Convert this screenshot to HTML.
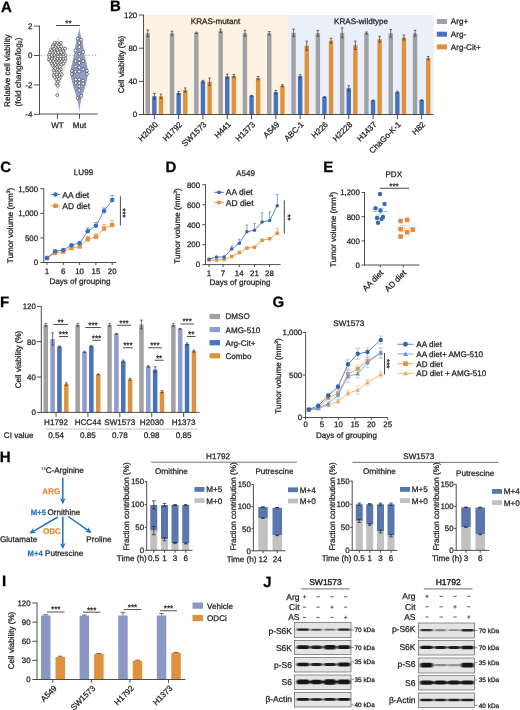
<!DOCTYPE html>
<html><head><meta charset="utf-8"><title>Figure</title>
<style>html,body{margin:0;padding:0;background:#fff}svg{display:block}text{font-family:"Liberation Sans",sans-serif;text-rendering:geometricPrecision;stroke-width:0.25px}</style>
</head><body>
<svg width="520" height="710" viewBox="0 0 520 710">
<defs><filter id="bl" x="-20%" y="-50%" width="140%" height="200%"><feGaussianBlur stdDeviation="0.9 0.5"/></filter></defs>
<rect width="520" height="710" fill="#fff"/>
<text x="0.90" y="11.50" font-size="15" font-weight="bold" fill="#000" stroke="#000" >A</text>
<path d="M58 34 C58.3 40 62 44 65 52 C68 58 67 64 64 72 C62 80 60 86 59 92 C58.4 97 58.2 100 58 104 C57.8 100 57.6 97 57 92 C56 86 54 80 52 72 C49 64 48 58 51 52 C54 44 57.7 40 58 34Z" fill="#e9e9e9"/>
<path d="M79.3 27 C79.5 33 81.6 37 82.4 41 C83.4 46 83.9 50 84.6 55 C85.5 61 88 66 88 72 C88 77 86.8 80 86 84 C85 88 83.5 92 82 97 C81 101 79.8 105 79.3 113 C78.8 105 77.6 101 76.6 97 C75.1 92 73.6 88 72.6 84 C71.8 80 70.6 77 70.6 72 C70.6 66 73.1 61 74 55 C74.7 50 75.2 46 76.2 41 C77 37 79.1 33 79.3 27Z" fill="#8f9dc8"/>
<line x1="40.50" y1="55.50" x2="97.50" y2="55.50" stroke="#b0b0b0" stroke-width="0.9" stroke-dasharray="1.4 1.8"/>
<line x1="39.50" y1="25.60" x2="39.50" y2="114.40" stroke="#3a3a3a" stroke-width="0.9" />
<line x1="39.50" y1="114.00" x2="97.70" y2="114.00" stroke="#3a3a3a" stroke-width="0.9" />
<line x1="33.90" y1="26.10" x2="39.50" y2="26.10" stroke="#3a3a3a" stroke-width="0.9" />
<text x="32.40" y="28.98" font-size="8.0" text-anchor="end" fill="#222" stroke="#222" >2</text>
<line x1="33.90" y1="55.50" x2="39.50" y2="55.50" stroke="#3a3a3a" stroke-width="0.9" />
<text x="32.40" y="58.38" font-size="8.0" text-anchor="end" fill="#222" stroke="#222" >0</text>
<line x1="33.90" y1="84.90" x2="39.50" y2="84.90" stroke="#3a3a3a" stroke-width="0.9" />
<text x="32.40" y="87.78" font-size="8.0" text-anchor="end" fill="#222" stroke="#222" >-2</text>
<line x1="33.90" y1="114.30" x2="39.50" y2="114.30" stroke="#3a3a3a" stroke-width="0.9" />
<text x="32.40" y="117.18" font-size="8.0" text-anchor="end" fill="#222" stroke="#222" >-4</text>
<line x1="57.50" y1="114.00" x2="57.50" y2="118.90" stroke="#3a3a3a" stroke-width="0.9" />
<text x="57.50" y="127.92" font-size="8.1" text-anchor="middle" fill="#222" stroke="#222" >WT</text>
<line x1="79.50" y1="114.00" x2="79.50" y2="118.90" stroke="#3a3a3a" stroke-width="0.9" />
<text x="79.50" y="127.92" font-size="8.1" text-anchor="middle" fill="#222" stroke="#222" >Mut</text>
<text x="0" y="0" font-size="8.1" text-anchor="middle" fill="#222" stroke="#222" transform="translate(9.72 70.70) rotate(-90)">Relative cell viability</text>
<text x="0" y="0" font-size="8.3" text-anchor="middle" fill="#222" stroke="#222" transform="translate(20.6 72) rotate(-90)">(fold changes/log<tspan font-size="5.2" dy="1.5">2</tspan><tspan dy="-1.5">)</tspan></text>
<line x1="56.00" y1="25.50" x2="80.00" y2="25.50" stroke="#333" stroke-width="0.9" />
<text x="68.50" y="26.42" font-size="8.1" text-anchor="middle" fill="#222" stroke="#222" >**</text>
<circle cx="54.65" cy="42.74" r="1.45" fill="#fff" stroke="#383838" stroke-width="0.65"/>
<circle cx="57.50" cy="43.04" r="1.45" fill="#fff" stroke="#383838" stroke-width="0.65"/>
<circle cx="60.83" cy="42.87" r="1.45" fill="#fff" stroke="#383838" stroke-width="0.65"/>
<circle cx="53.23" cy="45.10" r="1.45" fill="#fff" stroke="#383838" stroke-width="0.65"/>
<circle cx="56.36" cy="45.13" r="1.45" fill="#fff" stroke="#383838" stroke-width="0.65"/>
<circle cx="59.21" cy="44.57" r="1.45" fill="#fff" stroke="#383838" stroke-width="0.65"/>
<circle cx="52.75" cy="46.51" r="1.45" fill="#fff" stroke="#383838" stroke-width="0.65"/>
<circle cx="55.60" cy="47.34" r="1.45" fill="#fff" stroke="#383838" stroke-width="0.65"/>
<circle cx="58.45" cy="46.76" r="1.45" fill="#fff" stroke="#383838" stroke-width="0.65"/>
<circle cx="61.30" cy="46.73" r="1.45" fill="#fff" stroke="#383838" stroke-width="0.65"/>
<circle cx="50.85" cy="49.50" r="1.45" fill="#fff" stroke="#383838" stroke-width="0.65"/>
<circle cx="54.17" cy="48.97" r="1.45" fill="#fff" stroke="#383838" stroke-width="0.65"/>
<circle cx="57.02" cy="49.34" r="1.45" fill="#fff" stroke="#383838" stroke-width="0.65"/>
<circle cx="59.88" cy="48.98" r="1.45" fill="#fff" stroke="#383838" stroke-width="0.65"/>
<circle cx="62.73" cy="49.14" r="1.45" fill="#fff" stroke="#383838" stroke-width="0.65"/>
<circle cx="65.10" cy="48.65" r="1.45" fill="#fff" stroke="#383838" stroke-width="0.65"/>
<circle cx="51.80" cy="51.13" r="1.45" fill="#fff" stroke="#383838" stroke-width="0.65"/>
<circle cx="54.65" cy="51.37" r="1.45" fill="#fff" stroke="#383838" stroke-width="0.65"/>
<circle cx="57.50" cy="51.02" r="1.45" fill="#fff" stroke="#383838" stroke-width="0.65"/>
<circle cx="60.35" cy="51.24" r="1.45" fill="#fff" stroke="#383838" stroke-width="0.65"/>
<circle cx="63.20" cy="51.17" r="1.45" fill="#fff" stroke="#383838" stroke-width="0.65"/>
<circle cx="49.90" cy="52.56" r="1.45" fill="#fff" stroke="#383838" stroke-width="0.65"/>
<circle cx="52.75" cy="53.26" r="1.45" fill="#fff" stroke="#383838" stroke-width="0.65"/>
<circle cx="55.60" cy="53.09" r="1.45" fill="#fff" stroke="#383838" stroke-width="0.65"/>
<circle cx="58.45" cy="52.80" r="1.45" fill="#fff" stroke="#383838" stroke-width="0.65"/>
<circle cx="61.30" cy="52.53" r="1.45" fill="#fff" stroke="#383838" stroke-width="0.65"/>
<circle cx="64.15" cy="53.37" r="1.45" fill="#fff" stroke="#383838" stroke-width="0.65"/>
<circle cx="48.95" cy="54.97" r="1.45" fill="#fff" stroke="#383838" stroke-width="0.65"/>
<circle cx="51.80" cy="55.22" r="1.45" fill="#fff" stroke="#383838" stroke-width="0.65"/>
<circle cx="54.65" cy="55.38" r="1.45" fill="#fff" stroke="#383838" stroke-width="0.65"/>
<circle cx="57.50" cy="55.21" r="1.45" fill="#fff" stroke="#383838" stroke-width="0.65"/>
<circle cx="60.35" cy="55.42" r="1.45" fill="#fff" stroke="#383838" stroke-width="0.65"/>
<circle cx="63.20" cy="54.89" r="1.45" fill="#fff" stroke="#383838" stroke-width="0.65"/>
<circle cx="65.58" cy="55.30" r="1.45" fill="#fff" stroke="#383838" stroke-width="0.65"/>
<circle cx="49.42" cy="56.94" r="1.45" fill="#fff" stroke="#383838" stroke-width="0.65"/>
<circle cx="52.27" cy="57.44" r="1.45" fill="#fff" stroke="#383838" stroke-width="0.65"/>
<circle cx="55.12" cy="57.38" r="1.45" fill="#fff" stroke="#383838" stroke-width="0.65"/>
<circle cx="57.98" cy="56.60" r="1.45" fill="#fff" stroke="#383838" stroke-width="0.65"/>
<circle cx="60.83" cy="56.64" r="1.45" fill="#fff" stroke="#383838" stroke-width="0.65"/>
<circle cx="63.67" cy="56.72" r="1.45" fill="#fff" stroke="#383838" stroke-width="0.65"/>
<circle cx="48.95" cy="59.47" r="1.45" fill="#fff" stroke="#383838" stroke-width="0.65"/>
<circle cx="51.80" cy="58.94" r="1.45" fill="#fff" stroke="#383838" stroke-width="0.65"/>
<circle cx="54.65" cy="59.13" r="1.45" fill="#fff" stroke="#383838" stroke-width="0.65"/>
<circle cx="57.50" cy="58.80" r="1.45" fill="#fff" stroke="#383838" stroke-width="0.65"/>
<circle cx="60.35" cy="59.01" r="1.45" fill="#fff" stroke="#383838" stroke-width="0.65"/>
<circle cx="63.20" cy="58.89" r="1.45" fill="#fff" stroke="#383838" stroke-width="0.65"/>
<circle cx="65.58" cy="58.85" r="1.45" fill="#fff" stroke="#383838" stroke-width="0.65"/>
<circle cx="50.38" cy="61.09" r="1.45" fill="#fff" stroke="#383838" stroke-width="0.65"/>
<circle cx="53.23" cy="61.08" r="1.45" fill="#fff" stroke="#383838" stroke-width="0.65"/>
<circle cx="56.08" cy="61.40" r="1.45" fill="#fff" stroke="#383838" stroke-width="0.65"/>
<circle cx="58.92" cy="61.18" r="1.45" fill="#fff" stroke="#383838" stroke-width="0.65"/>
<circle cx="61.77" cy="61.43" r="1.45" fill="#fff" stroke="#383838" stroke-width="0.65"/>
<circle cx="64.62" cy="61.36" r="1.45" fill="#fff" stroke="#383838" stroke-width="0.65"/>
<circle cx="51.80" cy="63.49" r="1.45" fill="#fff" stroke="#383838" stroke-width="0.65"/>
<circle cx="54.65" cy="63.17" r="1.45" fill="#fff" stroke="#383838" stroke-width="0.65"/>
<circle cx="57.50" cy="62.66" r="1.45" fill="#fff" stroke="#383838" stroke-width="0.65"/>
<circle cx="60.35" cy="63.36" r="1.45" fill="#fff" stroke="#383838" stroke-width="0.65"/>
<circle cx="63.20" cy="63.46" r="1.45" fill="#fff" stroke="#383838" stroke-width="0.65"/>
<circle cx="52.75" cy="65.40" r="1.45" fill="#fff" stroke="#383838" stroke-width="0.65"/>
<circle cx="55.60" cy="65.07" r="1.45" fill="#fff" stroke="#383838" stroke-width="0.65"/>
<circle cx="58.45" cy="65.21" r="1.45" fill="#fff" stroke="#383838" stroke-width="0.65"/>
<circle cx="61.30" cy="64.71" r="1.45" fill="#fff" stroke="#383838" stroke-width="0.65"/>
<circle cx="54.17" cy="67.33" r="1.45" fill="#fff" stroke="#383838" stroke-width="0.65"/>
<circle cx="57.02" cy="67.07" r="1.45" fill="#fff" stroke="#383838" stroke-width="0.65"/>
<circle cx="59.88" cy="66.78" r="1.45" fill="#fff" stroke="#383838" stroke-width="0.65"/>
<circle cx="55.12" cy="68.56" r="1.45" fill="#fff" stroke="#383838" stroke-width="0.65"/>
<circle cx="57.98" cy="69.35" r="1.45" fill="#fff" stroke="#383838" stroke-width="0.65"/>
<circle cx="60.83" cy="69.49" r="1.45" fill="#fff" stroke="#383838" stroke-width="0.65"/>
<circle cx="53.70" cy="70.59" r="1.45" fill="#fff" stroke="#383838" stroke-width="0.65"/>
<circle cx="56.55" cy="71.30" r="1.45" fill="#fff" stroke="#383838" stroke-width="0.65"/>
<circle cx="59.40" cy="70.91" r="1.45" fill="#fff" stroke="#383838" stroke-width="0.65"/>
<circle cx="54.65" cy="72.65" r="1.45" fill="#fff" stroke="#383838" stroke-width="0.65"/>
<circle cx="57.50" cy="72.79" r="1.45" fill="#fff" stroke="#383838" stroke-width="0.65"/>
<circle cx="60.35" cy="73.27" r="1.45" fill="#fff" stroke="#383838" stroke-width="0.65"/>
<circle cx="53.70" cy="75.37" r="1.45" fill="#fff" stroke="#383838" stroke-width="0.65"/>
<circle cx="56.55" cy="74.54" r="1.45" fill="#fff" stroke="#383838" stroke-width="0.65"/>
<circle cx="59.40" cy="75.11" r="1.45" fill="#fff" stroke="#383838" stroke-width="0.65"/>
<circle cx="61.77" cy="74.54" r="1.45" fill="#fff" stroke="#383838" stroke-width="0.65"/>
<circle cx="54.65" cy="77.22" r="1.45" fill="#fff" stroke="#383838" stroke-width="0.65"/>
<circle cx="57.50" cy="76.83" r="1.45" fill="#fff" stroke="#383838" stroke-width="0.65"/>
<circle cx="59.88" cy="77.38" r="1.45" fill="#fff" stroke="#383838" stroke-width="0.65"/>
<circle cx="56.55" cy="79.48" r="1.45" fill="#fff" stroke="#383838" stroke-width="0.65"/>
<circle cx="58.92" cy="79.01" r="1.45" fill="#fff" stroke="#383838" stroke-width="0.65"/>
<circle cx="57.78" cy="82.00" r="1.45" fill="#fff" stroke="#383838" stroke-width="0.65"/>
<circle cx="56.55" cy="83.81" r="1.45" fill="#fff" stroke="#383838" stroke-width="0.65"/>
<circle cx="57.78" cy="85.58" r="1.45" fill="#fff" stroke="#383838" stroke-width="0.65"/>
<circle cx="57.22" cy="95.10" r="1.45" fill="#fff" stroke="#383838" stroke-width="0.65"/>
<circle cx="77.54" cy="38.63" r="1.45" fill="#fff" stroke="#383838" stroke-width="0.65"/>
<circle cx="81.23" cy="39.82" r="1.45" fill="#fff" stroke="#383838" stroke-width="0.65"/>
<circle cx="79.31" cy="43.06" r="1.45" fill="#fff" stroke="#383838" stroke-width="0.65"/>
<circle cx="79.31" cy="47.20" r="1.45" fill="#fff" stroke="#383838" stroke-width="0.65"/>
<circle cx="75.47" cy="50.45" r="1.45" fill="#fff" stroke="#383838" stroke-width="0.65"/>
<circle cx="83.15" cy="51.93" r="1.45" fill="#fff" stroke="#383838" stroke-width="0.65"/>
<circle cx="79.31" cy="53.70" r="1.45" fill="#fff" stroke="#383838" stroke-width="0.65"/>
<circle cx="79.31" cy="59.31" r="1.45" fill="#fff" stroke="#383838" stroke-width="0.65"/>
<circle cx="75.47" cy="61.09" r="1.45" fill="#fff" stroke="#383838" stroke-width="0.65"/>
<circle cx="83.15" cy="61.09" r="1.45" fill="#fff" stroke="#383838" stroke-width="0.65"/>
<circle cx="79.31" cy="63.01" r="1.45" fill="#fff" stroke="#383838" stroke-width="0.65"/>
<circle cx="75.77" cy="66.40" r="1.45" fill="#fff" stroke="#383838" stroke-width="0.65"/>
<circle cx="79.31" cy="67.44" r="1.45" fill="#fff" stroke="#383838" stroke-width="0.65"/>
<circle cx="83.15" cy="69.36" r="1.45" fill="#fff" stroke="#383838" stroke-width="0.65"/>
<circle cx="71.93" cy="70.83" r="1.45" fill="#fff" stroke="#383838" stroke-width="0.65"/>
<circle cx="86.99" cy="70.83" r="1.45" fill="#fff" stroke="#383838" stroke-width="0.65"/>
<circle cx="75.47" cy="71.87" r="1.45" fill="#fff" stroke="#383838" stroke-width="0.65"/>
<circle cx="79.31" cy="71.57" r="1.45" fill="#fff" stroke="#383838" stroke-width="0.65"/>
<circle cx="71.93" cy="74.08" r="1.45" fill="#fff" stroke="#383838" stroke-width="0.65"/>
<circle cx="86.99" cy="74.08" r="1.45" fill="#fff" stroke="#383838" stroke-width="0.65"/>
<circle cx="75.77" cy="79.55" r="1.45" fill="#fff" stroke="#383838" stroke-width="0.65"/>
<circle cx="79.31" cy="79.55" r="1.45" fill="#fff" stroke="#383838" stroke-width="0.65"/>
<circle cx="83.15" cy="80.73" r="1.45" fill="#fff" stroke="#383838" stroke-width="0.65"/>
<circle cx="75.77" cy="82.95" r="1.45" fill="#fff" stroke="#383838" stroke-width="0.65"/>
<circle cx="79.31" cy="83.24" r="1.45" fill="#fff" stroke="#383838" stroke-width="0.65"/>
<circle cx="83.15" cy="83.69" r="1.45" fill="#fff" stroke="#383838" stroke-width="0.65"/>
<circle cx="79.31" cy="86.34" r="1.45" fill="#fff" stroke="#383838" stroke-width="0.65"/>
<circle cx="79.31" cy="90.33" r="1.45" fill="#fff" stroke="#383838" stroke-width="0.65"/>
<circle cx="81.23" cy="95.95" r="1.45" fill="#fff" stroke="#383838" stroke-width="0.65"/>
<circle cx="77.54" cy="98.01" r="1.45" fill="#fff" stroke="#383838" stroke-width="0.65"/>
<text x="109.90" y="11.40" font-size="15" font-weight="bold" fill="#000" stroke="#000" >B</text>
<rect x="143.90" y="15.00" width="144.10" height="99.50" fill="#fef2e4" />
<rect x="288.00" y="15.00" width="145.90" height="99.50" fill="#e9f0fa" />
<rect x="145.55" y="33.26" width="4.40" height="81.24" fill="#a1a1a3" />
<line x1="147.75" y1="29.94" x2="147.75" y2="36.57" stroke="#333" stroke-width="0.7" />
<line x1="146.45" y1="29.94" x2="149.05" y2="29.94" stroke="#333" stroke-width="0.7" />
<line x1="146.45" y1="36.57" x2="149.05" y2="36.57" stroke="#333" stroke-width="0.7" />
<rect x="152.15" y="96.26" width="4.40" height="18.24" fill="#4672be" />
<line x1="154.35" y1="93.36" x2="154.35" y2="99.16" stroke="#333" stroke-width="0.7" />
<line x1="153.05" y1="93.36" x2="155.65" y2="93.36" stroke="#333" stroke-width="0.7" />
<line x1="153.05" y1="99.16" x2="155.65" y2="99.16" stroke="#333" stroke-width="0.7" />
<rect x="158.75" y="96.26" width="4.40" height="18.24" fill="#e0913c" />
<line x1="160.95" y1="94.19" x2="160.95" y2="98.33" stroke="#333" stroke-width="0.7" />
<line x1="159.65" y1="94.19" x2="162.25" y2="94.19" stroke="#333" stroke-width="0.7" />
<line x1="159.65" y1="98.33" x2="162.25" y2="98.33" stroke="#333" stroke-width="0.7" />
<line x1="154.35" y1="114.50" x2="154.35" y2="119.20" stroke="#3a3a3a" stroke-width="0.9" />
<text x="158.45" y="125.00" font-size="8.1" text-anchor="end" transform="rotate(-45 158.45 125.00)" fill="#222" stroke="#222" >H2030</text>
<rect x="169.85" y="33.26" width="4.40" height="81.24" fill="#a1a1a3" />
<line x1="172.05" y1="31.19" x2="172.05" y2="35.33" stroke="#333" stroke-width="0.7" />
<line x1="170.75" y1="31.19" x2="173.35" y2="31.19" stroke="#333" stroke-width="0.7" />
<line x1="170.75" y1="35.33" x2="173.35" y2="35.33" stroke="#333" stroke-width="0.7" />
<rect x="176.45" y="92.95" width="4.40" height="21.55" fill="#4672be" />
<line x1="178.65" y1="91.45" x2="178.65" y2="94.44" stroke="#333" stroke-width="0.7" />
<line x1="177.35" y1="91.45" x2="179.95" y2="91.45" stroke="#333" stroke-width="0.7" />
<line x1="177.35" y1="94.44" x2="179.95" y2="94.44" stroke="#333" stroke-width="0.7" />
<rect x="183.05" y="90.04" width="4.40" height="24.46" fill="#e0913c" />
<line x1="185.25" y1="87.97" x2="185.25" y2="92.12" stroke="#333" stroke-width="0.7" />
<line x1="183.95" y1="87.97" x2="186.55" y2="87.97" stroke="#333" stroke-width="0.7" />
<line x1="183.95" y1="92.12" x2="186.55" y2="92.12" stroke="#333" stroke-width="0.7" />
<line x1="178.65" y1="114.50" x2="178.65" y2="119.20" stroke="#3a3a3a" stroke-width="0.9" />
<text x="182.75" y="125.00" font-size="8.1" text-anchor="end" transform="rotate(-45 182.75 125.00)" fill="#222" stroke="#222" >H1792</text>
<rect x="194.15" y="32.84" width="4.40" height="81.66" fill="#a1a1a3" />
<line x1="196.35" y1="32.18" x2="196.35" y2="33.51" stroke="#333" stroke-width="0.7" />
<line x1="195.05" y1="32.18" x2="197.65" y2="32.18" stroke="#333" stroke-width="0.7" />
<line x1="195.05" y1="33.51" x2="197.65" y2="33.51" stroke="#333" stroke-width="0.7" />
<rect x="200.75" y="81.34" width="4.40" height="33.16" fill="#4672be" />
<line x1="202.95" y1="80.35" x2="202.95" y2="82.33" stroke="#333" stroke-width="0.7" />
<line x1="201.65" y1="80.35" x2="204.25" y2="80.35" stroke="#333" stroke-width="0.7" />
<line x1="201.65" y1="82.33" x2="204.25" y2="82.33" stroke="#333" stroke-width="0.7" />
<rect x="207.35" y="81.75" width="4.40" height="32.75" fill="#e0913c" />
<line x1="209.55" y1="78.02" x2="209.55" y2="85.49" stroke="#333" stroke-width="0.7" />
<line x1="208.25" y1="78.02" x2="210.85" y2="78.02" stroke="#333" stroke-width="0.7" />
<line x1="208.25" y1="85.49" x2="210.85" y2="85.49" stroke="#333" stroke-width="0.7" />
<line x1="202.95" y1="114.50" x2="202.95" y2="119.20" stroke="#3a3a3a" stroke-width="0.9" />
<text x="207.05" y="125.00" font-size="8.1" text-anchor="end" transform="rotate(-45 207.05 125.00)" fill="#222" stroke="#222" >SW1573</text>
<rect x="218.45" y="30.77" width="4.40" height="83.73" fill="#a1a1a3" />
<line x1="220.65" y1="29.11" x2="220.65" y2="32.43" stroke="#333" stroke-width="0.7" />
<line x1="219.35" y1="29.11" x2="221.95" y2="29.11" stroke="#333" stroke-width="0.7" />
<line x1="219.35" y1="32.43" x2="221.95" y2="32.43" stroke="#333" stroke-width="0.7" />
<rect x="225.05" y="76.37" width="4.40" height="38.13" fill="#4672be" />
<line x1="227.25" y1="74.29" x2="227.25" y2="78.44" stroke="#333" stroke-width="0.7" />
<line x1="225.95" y1="74.29" x2="228.55" y2="74.29" stroke="#333" stroke-width="0.7" />
<line x1="225.95" y1="78.44" x2="228.55" y2="78.44" stroke="#333" stroke-width="0.7" />
<rect x="231.65" y="75.95" width="4.40" height="38.55" fill="#e0913c" />
<line x1="233.85" y1="74.46" x2="233.85" y2="77.44" stroke="#333" stroke-width="0.7" />
<line x1="232.55" y1="74.46" x2="235.15" y2="74.46" stroke="#333" stroke-width="0.7" />
<line x1="232.55" y1="77.44" x2="235.15" y2="77.44" stroke="#333" stroke-width="0.7" />
<line x1="227.25" y1="114.50" x2="227.25" y2="119.20" stroke="#3a3a3a" stroke-width="0.9" />
<text x="231.35" y="125.00" font-size="8.1" text-anchor="end" transform="rotate(-45 231.35 125.00)" fill="#222" stroke="#222" >H441</text>
<rect x="242.75" y="33.26" width="4.40" height="81.24" fill="#a1a1a3" />
<line x1="244.95" y1="30.36" x2="244.95" y2="36.16" stroke="#333" stroke-width="0.7" />
<line x1="243.65" y1="30.36" x2="246.25" y2="30.36" stroke="#333" stroke-width="0.7" />
<line x1="243.65" y1="36.16" x2="246.25" y2="36.16" stroke="#333" stroke-width="0.7" />
<rect x="249.35" y="95.76" width="4.40" height="18.74" fill="#4672be" />
<line x1="251.55" y1="95.43" x2="251.55" y2="96.10" stroke="#333" stroke-width="0.7" />
<line x1="250.25" y1="95.43" x2="252.85" y2="95.43" stroke="#333" stroke-width="0.7" />
<line x1="250.25" y1="96.10" x2="252.85" y2="96.10" stroke="#333" stroke-width="0.7" />
<rect x="255.95" y="78.02" width="4.40" height="36.48" fill="#e0913c" />
<line x1="258.15" y1="76.37" x2="258.15" y2="79.68" stroke="#333" stroke-width="0.7" />
<line x1="256.85" y1="76.37" x2="259.45" y2="76.37" stroke="#333" stroke-width="0.7" />
<line x1="256.85" y1="79.68" x2="259.45" y2="79.68" stroke="#333" stroke-width="0.7" />
<line x1="251.55" y1="114.50" x2="251.55" y2="119.20" stroke="#3a3a3a" stroke-width="0.9" />
<text x="255.65" y="125.00" font-size="8.1" text-anchor="end" transform="rotate(-45 255.65 125.00)" fill="#222" stroke="#222" >H1373</text>
<rect x="267.05" y="33.26" width="4.40" height="81.24" fill="#a1a1a3" />
<line x1="269.25" y1="31.60" x2="269.25" y2="34.92" stroke="#333" stroke-width="0.7" />
<line x1="267.95" y1="31.60" x2="270.55" y2="31.60" stroke="#333" stroke-width="0.7" />
<line x1="267.95" y1="34.92" x2="270.55" y2="34.92" stroke="#333" stroke-width="0.7" />
<rect x="273.65" y="92.12" width="4.40" height="22.38" fill="#4672be" />
<line x1="275.85" y1="90.46" x2="275.85" y2="93.78" stroke="#333" stroke-width="0.7" />
<line x1="274.55" y1="90.46" x2="277.15" y2="90.46" stroke="#333" stroke-width="0.7" />
<line x1="274.55" y1="93.78" x2="277.15" y2="93.78" stroke="#333" stroke-width="0.7" />
<rect x="280.25" y="85.73" width="4.40" height="28.77" fill="#e0913c" />
<line x1="282.45" y1="84.74" x2="282.45" y2="86.73" stroke="#333" stroke-width="0.7" />
<line x1="281.15" y1="84.74" x2="283.75" y2="84.74" stroke="#333" stroke-width="0.7" />
<line x1="281.15" y1="86.73" x2="283.75" y2="86.73" stroke="#333" stroke-width="0.7" />
<line x1="275.85" y1="114.50" x2="275.85" y2="119.20" stroke="#3a3a3a" stroke-width="0.9" />
<text x="279.95" y="125.00" font-size="8.1" text-anchor="end" transform="rotate(-45 279.95 125.00)" fill="#222" stroke="#222" >A549</text>
<rect x="291.35" y="32.84" width="4.40" height="81.66" fill="#a1a1a3" />
<line x1="293.55" y1="29.11" x2="293.55" y2="36.57" stroke="#333" stroke-width="0.7" />
<line x1="292.25" y1="29.11" x2="294.85" y2="29.11" stroke="#333" stroke-width="0.7" />
<line x1="292.25" y1="36.57" x2="294.85" y2="36.57" stroke="#333" stroke-width="0.7" />
<rect x="297.95" y="76.20" width="4.40" height="38.30" fill="#4672be" />
<line x1="300.15" y1="74.71" x2="300.15" y2="77.69" stroke="#333" stroke-width="0.7" />
<line x1="298.85" y1="74.71" x2="301.45" y2="74.71" stroke="#333" stroke-width="0.7" />
<line x1="298.85" y1="77.69" x2="301.45" y2="77.69" stroke="#333" stroke-width="0.7" />
<rect x="304.55" y="45.69" width="4.40" height="68.81" fill="#e0913c" />
<line x1="306.75" y1="41.13" x2="306.75" y2="50.25" stroke="#333" stroke-width="0.7" />
<line x1="305.45" y1="41.13" x2="308.05" y2="41.13" stroke="#333" stroke-width="0.7" />
<line x1="305.45" y1="50.25" x2="308.05" y2="50.25" stroke="#333" stroke-width="0.7" />
<line x1="300.15" y1="114.50" x2="300.15" y2="119.20" stroke="#3a3a3a" stroke-width="0.9" />
<text x="304.25" y="125.00" font-size="8.1" text-anchor="end" transform="rotate(-45 304.25 125.00)" fill="#222" stroke="#222" >ABC-1</text>
<rect x="315.65" y="33.26" width="4.40" height="81.24" fill="#a1a1a3" />
<line x1="317.85" y1="30.36" x2="317.85" y2="36.16" stroke="#333" stroke-width="0.7" />
<line x1="316.55" y1="30.36" x2="319.15" y2="30.36" stroke="#333" stroke-width="0.7" />
<line x1="316.55" y1="36.16" x2="319.15" y2="36.16" stroke="#333" stroke-width="0.7" />
<rect x="322.25" y="97.01" width="4.40" height="17.49" fill="#4672be" />
<line x1="324.45" y1="96.59" x2="324.45" y2="97.42" stroke="#333" stroke-width="0.7" />
<line x1="323.15" y1="96.59" x2="325.75" y2="96.59" stroke="#333" stroke-width="0.7" />
<line x1="323.15" y1="97.42" x2="325.75" y2="97.42" stroke="#333" stroke-width="0.7" />
<rect x="328.85" y="40.72" width="4.40" height="73.78" fill="#e0913c" />
<line x1="331.05" y1="38.23" x2="331.05" y2="43.21" stroke="#333" stroke-width="0.7" />
<line x1="329.75" y1="38.23" x2="332.35" y2="38.23" stroke="#333" stroke-width="0.7" />
<line x1="329.75" y1="43.21" x2="332.35" y2="43.21" stroke="#333" stroke-width="0.7" />
<line x1="324.45" y1="114.50" x2="324.45" y2="119.20" stroke="#3a3a3a" stroke-width="0.9" />
<text x="328.55" y="125.00" font-size="8.1" text-anchor="end" transform="rotate(-45 328.55 125.00)" fill="#222" stroke="#222" >H226</text>
<rect x="339.95" y="32.84" width="4.40" height="81.66" fill="#a1a1a3" />
<line x1="342.15" y1="27.87" x2="342.15" y2="37.82" stroke="#333" stroke-width="0.7" />
<line x1="340.85" y1="27.87" x2="343.45" y2="27.87" stroke="#333" stroke-width="0.7" />
<line x1="340.85" y1="37.82" x2="343.45" y2="37.82" stroke="#333" stroke-width="0.7" />
<rect x="346.55" y="88.22" width="4.40" height="26.28" fill="#4672be" />
<line x1="348.75" y1="85.73" x2="348.75" y2="90.71" stroke="#333" stroke-width="0.7" />
<line x1="347.45" y1="85.73" x2="350.05" y2="85.73" stroke="#333" stroke-width="0.7" />
<line x1="347.45" y1="90.71" x2="350.05" y2="90.71" stroke="#333" stroke-width="0.7" />
<rect x="353.15" y="45.28" width="4.40" height="69.22" fill="#e0913c" />
<line x1="355.35" y1="41.13" x2="355.35" y2="49.42" stroke="#333" stroke-width="0.7" />
<line x1="354.05" y1="41.13" x2="356.65" y2="41.13" stroke="#333" stroke-width="0.7" />
<line x1="354.05" y1="49.42" x2="356.65" y2="49.42" stroke="#333" stroke-width="0.7" />
<line x1="348.75" y1="114.50" x2="348.75" y2="119.20" stroke="#3a3a3a" stroke-width="0.9" />
<text x="352.85" y="125.00" font-size="8.1" text-anchor="end" transform="rotate(-45 352.85 125.00)" fill="#222" stroke="#222" >H2228</text>
<rect x="364.25" y="33.01" width="4.40" height="81.49" fill="#a1a1a3" />
<line x1="366.45" y1="32.01" x2="366.45" y2="34.00" stroke="#333" stroke-width="0.7" />
<line x1="365.15" y1="32.01" x2="367.75" y2="32.01" stroke="#333" stroke-width="0.7" />
<line x1="365.15" y1="34.00" x2="367.75" y2="34.00" stroke="#333" stroke-width="0.7" />
<rect x="370.85" y="100.49" width="4.40" height="14.01" fill="#4672be" />
<line x1="373.05" y1="100.08" x2="373.05" y2="100.90" stroke="#333" stroke-width="0.7" />
<line x1="371.75" y1="100.08" x2="374.35" y2="100.08" stroke="#333" stroke-width="0.7" />
<line x1="371.75" y1="100.90" x2="374.35" y2="100.90" stroke="#333" stroke-width="0.7" />
<rect x="377.45" y="39.23" width="4.40" height="75.27" fill="#e0913c" />
<line x1="379.65" y1="36.33" x2="379.65" y2="42.13" stroke="#333" stroke-width="0.7" />
<line x1="378.35" y1="36.33" x2="380.95" y2="36.33" stroke="#333" stroke-width="0.7" />
<line x1="378.35" y1="42.13" x2="380.95" y2="42.13" stroke="#333" stroke-width="0.7" />
<line x1="373.05" y1="114.50" x2="373.05" y2="119.20" stroke="#3a3a3a" stroke-width="0.9" />
<text x="377.15" y="125.00" font-size="8.1" text-anchor="end" transform="rotate(-45 377.15 125.00)" fill="#222" stroke="#222" >H1437</text>
<rect x="388.55" y="33.26" width="4.40" height="81.24" fill="#a1a1a3" />
<line x1="390.75" y1="29.53" x2="390.75" y2="36.99" stroke="#333" stroke-width="0.7" />
<line x1="389.45" y1="29.53" x2="392.05" y2="29.53" stroke="#333" stroke-width="0.7" />
<line x1="389.45" y1="36.99" x2="392.05" y2="36.99" stroke="#333" stroke-width="0.7" />
<rect x="395.15" y="92.12" width="4.40" height="22.38" fill="#4672be" />
<line x1="397.35" y1="91.12" x2="397.35" y2="93.11" stroke="#333" stroke-width="0.7" />
<line x1="396.05" y1="91.12" x2="398.65" y2="91.12" stroke="#333" stroke-width="0.7" />
<line x1="396.05" y1="93.11" x2="398.65" y2="93.11" stroke="#333" stroke-width="0.7" />
<rect x="401.75" y="37.49" width="4.40" height="77.01" fill="#e0913c" />
<line x1="403.95" y1="35.00" x2="403.95" y2="39.97" stroke="#333" stroke-width="0.7" />
<line x1="402.65" y1="35.00" x2="405.25" y2="35.00" stroke="#333" stroke-width="0.7" />
<line x1="402.65" y1="39.97" x2="405.25" y2="39.97" stroke="#333" stroke-width="0.7" />
<line x1="397.35" y1="114.50" x2="397.35" y2="119.20" stroke="#3a3a3a" stroke-width="0.9" />
<text x="401.45" y="125.00" font-size="8.1" text-anchor="end" transform="rotate(-45 401.45 125.00)" fill="#222" stroke="#222" >ChaGo-K-1</text>
<rect x="412.85" y="33.26" width="4.40" height="81.24" fill="#a1a1a3" />
<line x1="415.05" y1="30.36" x2="415.05" y2="36.16" stroke="#333" stroke-width="0.7" />
<line x1="413.75" y1="30.36" x2="416.35" y2="30.36" stroke="#333" stroke-width="0.7" />
<line x1="413.75" y1="36.16" x2="416.35" y2="36.16" stroke="#333" stroke-width="0.7" />
<rect x="419.45" y="100.16" width="4.40" height="14.34" fill="#4672be" />
<line x1="421.65" y1="99.74" x2="421.65" y2="100.57" stroke="#333" stroke-width="0.7" />
<line x1="420.35" y1="99.74" x2="422.95" y2="99.74" stroke="#333" stroke-width="0.7" />
<line x1="420.35" y1="100.57" x2="422.95" y2="100.57" stroke="#333" stroke-width="0.7" />
<rect x="426.05" y="58.13" width="4.40" height="56.37" fill="#e0913c" />
<line x1="428.25" y1="56.47" x2="428.25" y2="59.79" stroke="#333" stroke-width="0.7" />
<line x1="426.95" y1="56.47" x2="429.55" y2="56.47" stroke="#333" stroke-width="0.7" />
<line x1="426.95" y1="59.79" x2="429.55" y2="59.79" stroke="#333" stroke-width="0.7" />
<line x1="421.65" y1="114.50" x2="421.65" y2="119.20" stroke="#3a3a3a" stroke-width="0.9" />
<text x="425.75" y="125.00" font-size="8.1" text-anchor="end" transform="rotate(-45 425.75 125.00)" fill="#222" stroke="#222" >H82</text>
<line x1="143.50" y1="14.60" x2="143.50" y2="114.90" stroke="#3a3a3a" stroke-width="0.9" />
<line x1="143.50" y1="114.50" x2="433.30" y2="114.50" stroke="#3a3a3a" stroke-width="0.9" />
<line x1="138.80" y1="114.50" x2="143.50" y2="114.50" stroke="#3a3a3a" stroke-width="0.9" />
<text x="137.20" y="117.34" font-size="7.9" text-anchor="end" fill="#222" stroke="#222" >0</text>
<line x1="138.80" y1="81.34" x2="143.50" y2="81.34" stroke="#3a3a3a" stroke-width="0.9" />
<text x="137.20" y="84.18" font-size="7.9" text-anchor="end" fill="#222" stroke="#222" >40</text>
<line x1="138.80" y1="48.18" x2="143.50" y2="48.18" stroke="#3a3a3a" stroke-width="0.9" />
<text x="137.20" y="51.02" font-size="7.9" text-anchor="end" fill="#222" stroke="#222" >80</text>
<line x1="138.80" y1="15.02" x2="143.50" y2="15.02" stroke="#3a3a3a" stroke-width="0.9" />
<text x="137.20" y="17.86" font-size="7.9" text-anchor="end" fill="#222" stroke="#222" >120</text>
<text x="0" y="0" font-size="8.1" text-anchor="middle" fill="#222" stroke="#222" transform="translate(124.32 64.50) rotate(-90)">Cell viability (%)</text>
<text x="215.60" y="24.42" font-size="8.1" text-anchor="middle" fill="#222" stroke="#222" >KRAS-mutant</text>
<text x="361.00" y="24.42" font-size="8.1" text-anchor="middle" fill="#222" stroke="#222" >KRAS-wildtype</text>
<rect x="436.80" y="19.00" width="10.20" height="5.00" fill="#a1a1a3" />
<text x="450.80" y="24.42" font-size="8.1" fill="#222" stroke="#222" >Arg+</text>
<rect x="436.80" y="31.70" width="10.20" height="5.00" fill="#4672be" />
<text x="450.80" y="37.12" font-size="8.1" fill="#222" stroke="#222" >Arg-</text>
<rect x="436.80" y="44.40" width="10.20" height="5.00" fill="#e0913c" />
<text x="450.80" y="49.82" font-size="8.1" fill="#222" stroke="#222" >Arg-Cit+</text>
<text x="0.20" y="172.20" font-size="15" font-weight="bold" fill="#000" stroke="#000" >C</text>
<text x="83.50" y="175.22" font-size="8.1" text-anchor="middle" fill="#222" stroke="#222" >LU99</text>
<line x1="43.75" y1="188.35" x2="43.75" y2="262.90" stroke="#3a3a3a" stroke-width="0.9" />
<line x1="43.75" y1="262.50" x2="116.30" y2="262.50" stroke="#3a3a3a" stroke-width="0.9" />
<line x1="40.35" y1="262.50" x2="43.75" y2="262.50" stroke="#3a3a3a" stroke-width="0.9" />
<text x="38.05" y="265.34" font-size="7.9" text-anchor="end" fill="#222" stroke="#222" >0</text>
<line x1="40.35" y1="237.92" x2="43.75" y2="237.92" stroke="#3a3a3a" stroke-width="0.9" />
<text x="38.05" y="240.76" font-size="7.9" text-anchor="end" fill="#222" stroke="#222" >500</text>
<line x1="40.35" y1="213.33" x2="43.75" y2="213.33" stroke="#3a3a3a" stroke-width="0.9" />
<text x="38.05" y="216.18" font-size="7.9" text-anchor="end" fill="#222" stroke="#222" >1,000</text>
<line x1="40.35" y1="188.75" x2="43.75" y2="188.75" stroke="#3a3a3a" stroke-width="0.9" />
<text x="38.05" y="191.59" font-size="7.9" text-anchor="end" fill="#222" stroke="#222" >1,500</text>
<line x1="47.00" y1="262.50" x2="47.00" y2="265.00" stroke="#3a3a3a" stroke-width="0.9" />
<text x="47.00" y="274.14" font-size="7.9" text-anchor="middle" fill="#222" stroke="#222" >1</text>
<line x1="63.30" y1="262.50" x2="63.30" y2="265.00" stroke="#3a3a3a" stroke-width="0.9" />
<text x="63.30" y="274.14" font-size="7.9" text-anchor="middle" fill="#222" stroke="#222" >6</text>
<line x1="79.60" y1="262.50" x2="79.60" y2="265.00" stroke="#3a3a3a" stroke-width="0.9" />
<text x="79.60" y="274.14" font-size="7.9" text-anchor="middle" fill="#222" stroke="#222" >10</text>
<line x1="95.90" y1="262.50" x2="95.90" y2="265.00" stroke="#3a3a3a" stroke-width="0.9" />
<text x="95.90" y="274.14" font-size="7.9" text-anchor="middle" fill="#222" stroke="#222" >15</text>
<line x1="112.20" y1="262.50" x2="112.20" y2="265.00" stroke="#3a3a3a" stroke-width="0.9" />
<text x="112.20" y="274.14" font-size="7.9" text-anchor="middle" fill="#222" stroke="#222" >20</text>
<text x="80.00" y="284.22" font-size="8.1" text-anchor="middle" fill="#222" stroke="#222" >Days of grouping</text>
<text x="0" y="0" font-size="8.1" text-anchor="middle" fill="#222" stroke="#222" transform="translate(13.4 225.5) rotate(-90)">Tumor volume (mm<tspan font-size="5" dy="-3">3</tspan><tspan dy="3">)</tspan></text>
<line x1="87.75" y1="239.25" x2="87.75" y2="236.25" stroke="#e88f3c" stroke-width="0.6" />
<line x1="85.45" y1="236.25" x2="90.05" y2="236.25" stroke="#e88f3c" stroke-width="0.6" />
<line x1="95.90" y1="236.75" x2="95.90" y2="233.75" stroke="#e88f3c" stroke-width="0.6" />
<line x1="93.60" y1="233.75" x2="98.20" y2="233.75" stroke="#e88f3c" stroke-width="0.6" />
<line x1="104.05" y1="228.50" x2="104.05" y2="224.50" stroke="#e88f3c" stroke-width="0.6" />
<line x1="101.75" y1="224.50" x2="106.35" y2="224.50" stroke="#e88f3c" stroke-width="0.6" />
<line x1="112.20" y1="225.00" x2="112.20" y2="220.50" stroke="#e88f3c" stroke-width="0.6" />
<line x1="109.90" y1="220.50" x2="114.50" y2="220.50" stroke="#e88f3c" stroke-width="0.6" />
<polyline fill="none" stroke="#e88f3c" stroke-width="0.8" points="47.00,258.00 55.15,252.75 63.30,251.75 71.45,248.00 79.60,246.50 87.75,239.25 95.90,236.75 104.05,228.50 112.20,225.00"/>
<rect x="44.81" y="255.81" width="4.37" height="4.37" fill="#e88f3c" />
<rect x="52.96" y="250.56" width="4.37" height="4.37" fill="#e88f3c" />
<rect x="61.11" y="249.56" width="4.37" height="4.37" fill="#e88f3c" />
<rect x="69.27" y="245.81" width="4.37" height="4.37" fill="#e88f3c" />
<rect x="77.41" y="244.31" width="4.37" height="4.37" fill="#e88f3c" />
<rect x="85.56" y="237.06" width="4.37" height="4.37" fill="#e88f3c" />
<rect x="93.72" y="234.56" width="4.37" height="4.37" fill="#e88f3c" />
<rect x="101.87" y="226.31" width="4.37" height="4.37" fill="#e88f3c" />
<rect x="110.02" y="222.81" width="4.37" height="4.37" fill="#e88f3c" />
<line x1="87.75" y1="231.25" x2="87.75" y2="228.05" stroke="#3f6ec0" stroke-width="0.6" />
<line x1="85.45" y1="228.05" x2="90.05" y2="228.05" stroke="#3f6ec0" stroke-width="0.6" />
<line x1="95.90" y1="225.75" x2="95.90" y2="222.55" stroke="#3f6ec0" stroke-width="0.6" />
<line x1="93.60" y1="222.55" x2="98.20" y2="222.55" stroke="#3f6ec0" stroke-width="0.6" />
<line x1="104.05" y1="211.00" x2="104.05" y2="208.00" stroke="#3f6ec0" stroke-width="0.6" />
<line x1="101.75" y1="208.00" x2="106.35" y2="208.00" stroke="#3f6ec0" stroke-width="0.6" />
<line x1="112.20" y1="200.00" x2="112.20" y2="195.50" stroke="#3f6ec0" stroke-width="0.6" />
<line x1="109.90" y1="195.50" x2="114.50" y2="195.50" stroke="#3f6ec0" stroke-width="0.6" />
<polyline fill="none" stroke="#3f6ec0" stroke-width="0.8" points="47.00,258.00 55.15,251.25 63.30,250.00 71.45,245.25 79.60,243.00 87.75,231.25 95.90,225.75 104.05,211.00 112.20,200.00"/>
<circle cx="47.00" cy="258.00" r="2.3" fill="#3f6ec0" stroke="none" stroke-width="0.5"/>
<circle cx="55.15" cy="251.25" r="2.3" fill="#3f6ec0" stroke="none" stroke-width="0.5"/>
<circle cx="63.30" cy="250.00" r="2.3" fill="#3f6ec0" stroke="none" stroke-width="0.5"/>
<circle cx="71.45" cy="245.25" r="2.3" fill="#3f6ec0" stroke="none" stroke-width="0.5"/>
<circle cx="79.60" cy="243.00" r="2.3" fill="#3f6ec0" stroke="none" stroke-width="0.5"/>
<circle cx="87.75" cy="231.25" r="2.3" fill="#3f6ec0" stroke="none" stroke-width="0.5"/>
<circle cx="95.90" cy="225.75" r="2.3" fill="#3f6ec0" stroke="none" stroke-width="0.5"/>
<circle cx="104.05" cy="211.00" r="2.3" fill="#3f6ec0" stroke="none" stroke-width="0.5"/>
<circle cx="112.20" cy="200.00" r="2.3" fill="#3f6ec0" stroke="none" stroke-width="0.5"/>
<line x1="51.00" y1="194.50" x2="60.00" y2="194.50" stroke="#3f6ec0" stroke-width="0.9" />
<circle cx="55.50" cy="194.50" r="2.3" fill="#3f6ec0" stroke="none" stroke-width="0.5"/>
<text x="62.30" y="197.56" font-size="8.5" fill="#222" stroke="#222" >AA diet</text>
<line x1="51.00" y1="205.80" x2="60.00" y2="205.80" stroke="#e88f3c" stroke-width="0.9" />
<rect x="53.30" y="203.60" width="4.40" height="4.40" fill="#e88f3c" />
<text x="62.30" y="208.86" font-size="8.5" fill="#222" stroke="#222" >AD diet</text>
<line x1="120.40" y1="196.30" x2="120.40" y2="225.50" stroke="#333" stroke-width="0.9" />
<text font-size="8.1" text-anchor="middle" fill="#222" stroke="#222" transform="translate(120.3 213) rotate(90)">***</text>
<text x="165.40" y="172.00" font-size="15" font-weight="bold" fill="#000" stroke="#000" >D</text>
<text x="245.50" y="176.32" font-size="8.1" text-anchor="middle" fill="#222" stroke="#222" >A549</text>
<line x1="205.50" y1="184.35" x2="205.50" y2="265.00" stroke="#3a3a3a" stroke-width="0.9" />
<line x1="205.50" y1="264.60" x2="280.50" y2="264.60" stroke="#3a3a3a" stroke-width="0.9" />
<line x1="202.30" y1="264.60" x2="205.50" y2="264.60" stroke="#3a3a3a" stroke-width="0.9" />
<text x="200.10" y="267.44" font-size="7.9" text-anchor="end" fill="#222" stroke="#222" >0</text>
<line x1="202.30" y1="244.64" x2="205.50" y2="244.64" stroke="#3a3a3a" stroke-width="0.9" />
<text x="200.10" y="247.48" font-size="7.9" text-anchor="end" fill="#222" stroke="#222" >200</text>
<line x1="202.30" y1="224.68" x2="205.50" y2="224.68" stroke="#3a3a3a" stroke-width="0.9" />
<text x="200.10" y="227.52" font-size="7.9" text-anchor="end" fill="#222" stroke="#222" >400</text>
<line x1="202.30" y1="204.71" x2="205.50" y2="204.71" stroke="#3a3a3a" stroke-width="0.9" />
<text x="200.10" y="207.56" font-size="7.9" text-anchor="end" fill="#222" stroke="#222" >600</text>
<line x1="202.30" y1="184.75" x2="205.50" y2="184.75" stroke="#3a3a3a" stroke-width="0.9" />
<text x="200.10" y="187.59" font-size="7.9" text-anchor="end" fill="#222" stroke="#222" >800</text>
<line x1="209.00" y1="264.60" x2="209.00" y2="267.10" stroke="#3a3a3a" stroke-width="0.9" />
<text x="209.00" y="275.74" font-size="7.9" text-anchor="middle" fill="#222" stroke="#222" >1</text>
<line x1="223.00" y1="264.60" x2="223.00" y2="267.10" stroke="#3a3a3a" stroke-width="0.9" />
<text x="223.00" y="275.74" font-size="7.9" text-anchor="middle" fill="#222" stroke="#222" >7</text>
<line x1="239.25" y1="264.60" x2="239.25" y2="267.10" stroke="#3a3a3a" stroke-width="0.9" />
<text x="239.25" y="275.74" font-size="7.9" text-anchor="middle" fill="#222" stroke="#222" >14</text>
<line x1="254.50" y1="264.60" x2="254.50" y2="267.10" stroke="#3a3a3a" stroke-width="0.9" />
<text x="254.50" y="275.74" font-size="7.9" text-anchor="middle" fill="#222" stroke="#222" >21</text>
<line x1="269.50" y1="264.60" x2="269.50" y2="267.10" stroke="#3a3a3a" stroke-width="0.9" />
<text x="269.50" y="275.74" font-size="7.9" text-anchor="middle" fill="#222" stroke="#222" >28</text>
<text x="240.00" y="285.42" font-size="8.1" text-anchor="middle" fill="#222" stroke="#222" >Days of grouping</text>
<text x="0" y="0" font-size="8.1" text-anchor="middle" fill="#222" stroke="#222" transform="translate(179.5 226) rotate(-90)">Tumor volume (mm<tspan font-size="5" dy="-3">3</tspan><tspan dy="3">)</tspan></text>
<line x1="277.25" y1="233.25" x2="277.25" y2="228.00" stroke="#e88f3c" stroke-width="0.6" />
<line x1="275.95" y1="228.00" x2="278.55" y2="228.00" stroke="#e88f3c" stroke-width="0.6" />
<polyline fill="none" stroke="#e88f3c" stroke-width="0.8" points="209.00,260.00 216.58,260.00 224.17,259.50 231.75,256.50 239.33,252.50 246.91,248.00 254.50,247.25 262.08,240.25 269.66,238.75 277.25,233.25"/>
<rect x="207.29" y="258.29" width="3.42" height="3.42" fill="#e88f3c" />
<rect x="214.87" y="258.29" width="3.42" height="3.42" fill="#e88f3c" />
<rect x="222.46" y="257.79" width="3.42" height="3.42" fill="#e88f3c" />
<rect x="230.04" y="254.79" width="3.42" height="3.42" fill="#e88f3c" />
<rect x="237.62" y="250.79" width="3.42" height="3.42" fill="#e88f3c" />
<rect x="245.20" y="246.29" width="3.42" height="3.42" fill="#e88f3c" />
<rect x="252.79" y="245.54" width="3.42" height="3.42" fill="#e88f3c" />
<rect x="260.37" y="238.54" width="3.42" height="3.42" fill="#e88f3c" />
<rect x="267.95" y="237.04" width="3.42" height="3.42" fill="#e88f3c" />
<rect x="275.54" y="231.54" width="3.42" height="3.42" fill="#e88f3c" />
<line x1="231.75" y1="249.00" x2="231.75" y2="246.00" stroke="#3568b0" stroke-width="0.6" />
<line x1="230.45" y1="246.00" x2="233.05" y2="246.00" stroke="#3568b0" stroke-width="0.6" />
<line x1="239.33" y1="243.25" x2="239.33" y2="239.25" stroke="#3568b0" stroke-width="0.6" />
<line x1="238.03" y1="239.25" x2="240.63" y2="239.25" stroke="#3568b0" stroke-width="0.6" />
<line x1="246.91" y1="231.75" x2="246.91" y2="225.00" stroke="#3568b0" stroke-width="0.6" />
<line x1="245.61" y1="225.00" x2="248.22" y2="225.00" stroke="#3568b0" stroke-width="0.6" />
<line x1="254.50" y1="230.25" x2="254.50" y2="223.50" stroke="#3568b0" stroke-width="0.6" />
<line x1="253.20" y1="223.50" x2="255.80" y2="223.50" stroke="#3568b0" stroke-width="0.6" />
<line x1="262.08" y1="222.00" x2="262.08" y2="212.75" stroke="#3568b0" stroke-width="0.6" />
<line x1="260.78" y1="212.75" x2="263.38" y2="212.75" stroke="#3568b0" stroke-width="0.6" />
<line x1="269.66" y1="220.50" x2="269.66" y2="212.00" stroke="#3568b0" stroke-width="0.6" />
<line x1="268.36" y1="212.00" x2="270.96" y2="212.00" stroke="#3568b0" stroke-width="0.6" />
<line x1="277.25" y1="205.75" x2="277.25" y2="194.50" stroke="#3568b0" stroke-width="0.6" />
<line x1="275.95" y1="194.50" x2="278.55" y2="194.50" stroke="#3568b0" stroke-width="0.6" />
<polyline fill="none" stroke="#3568b0" stroke-width="0.8" points="209.00,259.25 216.58,257.00 224.17,257.00 231.75,249.00 239.33,243.25 246.91,231.75 254.50,230.25 262.08,222.00 269.66,220.50 277.25,205.75"/>
<circle cx="209.00" cy="259.25" r="1.8" fill="#3568b0" stroke="none" stroke-width="0.5"/>
<circle cx="216.58" cy="257.00" r="1.8" fill="#3568b0" stroke="none" stroke-width="0.5"/>
<circle cx="224.17" cy="257.00" r="1.8" fill="#3568b0" stroke="none" stroke-width="0.5"/>
<circle cx="231.75" cy="249.00" r="1.8" fill="#3568b0" stroke="none" stroke-width="0.5"/>
<circle cx="239.33" cy="243.25" r="1.8" fill="#3568b0" stroke="none" stroke-width="0.5"/>
<circle cx="246.91" cy="231.75" r="1.8" fill="#3568b0" stroke="none" stroke-width="0.5"/>
<circle cx="254.50" cy="230.25" r="1.8" fill="#3568b0" stroke="none" stroke-width="0.5"/>
<circle cx="262.08" cy="222.00" r="1.8" fill="#3568b0" stroke="none" stroke-width="0.5"/>
<circle cx="269.66" cy="220.50" r="1.8" fill="#3568b0" stroke="none" stroke-width="0.5"/>
<circle cx="277.25" cy="205.75" r="1.8" fill="#3568b0" stroke="none" stroke-width="0.5"/>
<line x1="214.30" y1="192.30" x2="223.70" y2="192.30" stroke="#3568b0" stroke-width="0.9" />
<circle cx="219.00" cy="192.30" r="1.9" fill="#3568b0" stroke="none" stroke-width="0.5"/>
<text x="225.80" y="195.36" font-size="8.5" fill="#222" stroke="#222" >AA diet</text>
<line x1="214.30" y1="202.50" x2="223.70" y2="202.50" stroke="#e88f3c" stroke-width="0.9" />
<rect x="217.20" y="200.70" width="3.60" height="3.60" fill="#e88f3c" />
<text x="225.80" y="205.56" font-size="8.5" fill="#222" stroke="#222" >AD diet</text>
<line x1="284.30" y1="200.30" x2="284.30" y2="233.50" stroke="#333" stroke-width="0.9" />
<text font-size="8.1" text-anchor="middle" fill="#222" stroke="#222" transform="translate(284.5 217.5) rotate(90)">**</text>
<text x="323.30" y="172.00" font-size="15" font-weight="bold" fill="#000" stroke="#000" >E</text>
<text x="393.80" y="177.22" font-size="8.1" text-anchor="middle" fill="#222" stroke="#222" >PDX</text>
<line x1="364.50" y1="192.10" x2="364.50" y2="265.40" stroke="#3a3a3a" stroke-width="0.9" />
<line x1="364.50" y1="265.00" x2="419.50" y2="265.00" stroke="#3a3a3a" stroke-width="0.9" />
<line x1="361.60" y1="265.00" x2="364.50" y2="265.00" stroke="#3a3a3a" stroke-width="0.9" />
<text x="359.90" y="267.84" font-size="7.9" text-anchor="end" fill="#222" stroke="#222" >0</text>
<line x1="361.60" y1="240.83" x2="364.50" y2="240.83" stroke="#3a3a3a" stroke-width="0.9" />
<text x="359.90" y="243.68" font-size="7.9" text-anchor="end" fill="#222" stroke="#222" >400</text>
<line x1="361.60" y1="216.67" x2="364.50" y2="216.67" stroke="#3a3a3a" stroke-width="0.9" />
<text x="359.90" y="219.51" font-size="7.9" text-anchor="end" fill="#222" stroke="#222" >800</text>
<line x1="361.60" y1="192.50" x2="364.50" y2="192.50" stroke="#3a3a3a" stroke-width="0.9" />
<text x="359.90" y="195.34" font-size="7.9" text-anchor="end" fill="#222" stroke="#222" >1,200</text>
<line x1="380.25" y1="265.00" x2="380.25" y2="267.50" stroke="#3a3a3a" stroke-width="0.9" />
<text x="383.85" y="273.50" font-size="8.1" text-anchor="end" transform="rotate(-45 383.85 273.50)" fill="#222" stroke="#222" >AA diet</text>
<line x1="403.25" y1="265.00" x2="403.25" y2="267.50" stroke="#3a3a3a" stroke-width="0.9" />
<text x="406.85" y="273.50" font-size="8.1" text-anchor="end" transform="rotate(-45 406.85 273.50)" fill="#222" stroke="#222" >AD diet</text>
<text x="0" y="0" font-size="8.1" text-anchor="middle" fill="#222" stroke="#222" transform="translate(335.7 229.5) rotate(-90)">Tumor volume (mm<tspan font-size="5" dy="-3">3</tspan><tspan dy="3">)</tspan></text>
<line x1="379.75" y1="188.25" x2="409.25" y2="188.25" stroke="#333" stroke-width="0.9" />
<text x="394.00" y="188.92" font-size="8.1" text-anchor="middle" fill="#222" stroke="#222" >***</text>
<line x1="372.50" y1="211.50" x2="388.00" y2="211.50" stroke="#9cc0e6" stroke-width="0.8" />
<line x1="376.25" y1="208.25" x2="384.25" y2="208.25" stroke="#9cc0e6" stroke-width="0.7" />
<line x1="376.25" y1="215.00" x2="384.25" y2="215.00" stroke="#9cc0e6" stroke-width="0.7" />
<line x1="380.25" y1="208.25" x2="380.25" y2="215.00" stroke="#9cc0e6" stroke-width="0.7" />
<line x1="396.00" y1="228.00" x2="414.00" y2="228.00" stroke="#f3c699" stroke-width="0.8" />
<line x1="400.00" y1="225.50" x2="409.25" y2="225.50" stroke="#f3c699" stroke-width="0.7" />
<line x1="400.00" y1="230.75" x2="409.25" y2="230.75" stroke="#f3c699" stroke-width="0.7" />
<line x1="404.60" y1="225.50" x2="404.60" y2="230.75" stroke="#f3c699" stroke-width="0.7" />
<circle cx="380.00" cy="194.00" r="2.2" fill="#3a69ae" stroke="none" stroke-width="0.5"/>
<circle cx="384.50" cy="204.00" r="2.2" fill="#3a69ae" stroke="none" stroke-width="0.5"/>
<circle cx="375.50" cy="208.25" r="2.2" fill="#3a69ae" stroke="none" stroke-width="0.5"/>
<circle cx="380.50" cy="210.50" r="2.2" fill="#3a69ae" stroke="none" stroke-width="0.5"/>
<circle cx="383.00" cy="217.00" r="2.2" fill="#3a69ae" stroke="none" stroke-width="0.5"/>
<circle cx="377.00" cy="218.00" r="2.2" fill="#3a69ae" stroke="none" stroke-width="0.5"/>
<circle cx="381.50" cy="219.00" r="2.2" fill="#3a69ae" stroke="none" stroke-width="0.5"/>
<circle cx="378.00" cy="222.75" r="2.2" fill="#3a69ae" stroke="none" stroke-width="0.5"/>
<rect x="398.35" y="218.75" width="4.50" height="4.50" fill="#e28a36" />
<rect x="404.85" y="217.55" width="4.50" height="4.50" fill="#e28a36" />
<rect x="398.35" y="226.95" width="4.50" height="4.50" fill="#e28a36" />
<rect x="404.85" y="229.95" width="4.50" height="4.50" fill="#e28a36" />
<rect x="410.55" y="227.35" width="4.50" height="4.50" fill="#e28a36" />
<rect x="398.35" y="234.25" width="4.50" height="4.50" fill="#e28a36" />
<text x="0.05" y="306.80" font-size="15" font-weight="bold" fill="#000" stroke="#000" >F</text>
<rect x="43.50" y="324.95" width="4.50" height="87.45" fill="#a1a1a3" />
<line x1="45.75" y1="323.63" x2="45.75" y2="326.28" stroke="#333" stroke-width="0.7" />
<line x1="44.45" y1="323.63" x2="47.05" y2="323.63" stroke="#333" stroke-width="0.7" />
<line x1="44.45" y1="326.28" x2="47.05" y2="326.28" stroke="#333" stroke-width="0.7" />
<rect x="50.35" y="339.09" width="4.50" height="73.31" fill="#909ccb" />
<line x1="52.60" y1="332.90" x2="52.60" y2="345.27" stroke="#333" stroke-width="0.7" />
<line x1="51.30" y1="332.90" x2="53.90" y2="332.90" stroke="#333" stroke-width="0.7" />
<line x1="51.30" y1="345.27" x2="53.90" y2="345.27" stroke="#333" stroke-width="0.7" />
<rect x="57.20" y="346.59" width="4.50" height="65.81" fill="#4672be" />
<line x1="59.45" y1="346.06" x2="59.45" y2="347.12" stroke="#333" stroke-width="0.7" />
<line x1="58.15" y1="346.06" x2="60.75" y2="346.06" stroke="#333" stroke-width="0.7" />
<line x1="58.15" y1="347.12" x2="60.75" y2="347.12" stroke="#333" stroke-width="0.7" />
<rect x="64.05" y="384.13" width="4.50" height="28.27" fill="#e0913c" />
<line x1="66.30" y1="382.81" x2="66.30" y2="385.46" stroke="#333" stroke-width="0.7" />
<line x1="65.00" y1="382.81" x2="67.60" y2="382.81" stroke="#333" stroke-width="0.7" />
<line x1="65.00" y1="385.46" x2="67.60" y2="385.46" stroke="#333" stroke-width="0.7" />
<line x1="56.05" y1="412.40" x2="56.05" y2="417.10" stroke="#3a3a3a" stroke-width="0.9" />
<text x="56.05" y="425.12" font-size="8.1" text-anchor="middle" fill="#222" stroke="#222" >H1792</text>
<text x="56.05" y="438.22" font-size="8.1" text-anchor="middle" fill="#222" stroke="#222" >0.54</text>
<rect x="75.40" y="324.95" width="4.50" height="87.45" fill="#a1a1a3" />
<line x1="77.65" y1="323.63" x2="77.65" y2="326.28" stroke="#333" stroke-width="0.7" />
<line x1="76.35" y1="323.63" x2="78.95" y2="323.63" stroke="#333" stroke-width="0.7" />
<line x1="76.35" y1="326.28" x2="78.95" y2="326.28" stroke="#333" stroke-width="0.7" />
<rect x="82.25" y="351.89" width="4.50" height="60.51" fill="#909ccb" />
<line x1="84.50" y1="351.19" x2="84.50" y2="352.60" stroke="#333" stroke-width="0.7" />
<line x1="83.20" y1="351.19" x2="85.80" y2="351.19" stroke="#333" stroke-width="0.7" />
<line x1="83.20" y1="352.60" x2="85.80" y2="352.60" stroke="#333" stroke-width="0.7" />
<rect x="89.10" y="346.15" width="4.50" height="66.25" fill="#4672be" />
<line x1="91.35" y1="345.62" x2="91.35" y2="346.68" stroke="#333" stroke-width="0.7" />
<line x1="90.05" y1="345.62" x2="92.65" y2="345.62" stroke="#333" stroke-width="0.7" />
<line x1="90.05" y1="346.68" x2="92.65" y2="346.68" stroke="#333" stroke-width="0.7" />
<rect x="95.95" y="374.42" width="4.50" height="37.98" fill="#e0913c" />
<line x1="98.20" y1="373.98" x2="98.20" y2="374.86" stroke="#333" stroke-width="0.7" />
<line x1="96.90" y1="373.98" x2="99.50" y2="373.98" stroke="#333" stroke-width="0.7" />
<line x1="96.90" y1="374.86" x2="99.50" y2="374.86" stroke="#333" stroke-width="0.7" />
<line x1="87.95" y1="412.40" x2="87.95" y2="417.10" stroke="#3a3a3a" stroke-width="0.9" />
<text x="87.95" y="425.12" font-size="8.1" text-anchor="middle" fill="#222" stroke="#222" >HCC44</text>
<text x="87.95" y="438.22" font-size="8.1" text-anchor="middle" fill="#222" stroke="#222" >0.85</text>
<rect x="107.30" y="324.95" width="4.50" height="87.45" fill="#a1a1a3" />
<line x1="109.55" y1="323.63" x2="109.55" y2="326.28" stroke="#333" stroke-width="0.7" />
<line x1="108.25" y1="323.63" x2="110.85" y2="323.63" stroke="#333" stroke-width="0.7" />
<line x1="108.25" y1="326.28" x2="110.85" y2="326.28" stroke="#333" stroke-width="0.7" />
<rect x="114.15" y="333.79" width="4.50" height="78.61" fill="#909ccb" />
<line x1="116.40" y1="333.43" x2="116.40" y2="334.14" stroke="#333" stroke-width="0.7" />
<line x1="115.10" y1="333.43" x2="117.70" y2="333.43" stroke="#333" stroke-width="0.7" />
<line x1="115.10" y1="334.14" x2="117.70" y2="334.14" stroke="#333" stroke-width="0.7" />
<rect x="121.00" y="361.17" width="4.50" height="51.23" fill="#4672be" />
<line x1="123.25" y1="360.11" x2="123.25" y2="362.23" stroke="#333" stroke-width="0.7" />
<line x1="121.95" y1="360.11" x2="124.55" y2="360.11" stroke="#333" stroke-width="0.7" />
<line x1="121.95" y1="362.23" x2="124.55" y2="362.23" stroke="#333" stroke-width="0.7" />
<rect x="127.85" y="379.28" width="4.50" height="33.12" fill="#e0913c" />
<line x1="130.10" y1="378.22" x2="130.10" y2="380.34" stroke="#333" stroke-width="0.7" />
<line x1="128.80" y1="378.22" x2="131.40" y2="378.22" stroke="#333" stroke-width="0.7" />
<line x1="128.80" y1="380.34" x2="131.40" y2="380.34" stroke="#333" stroke-width="0.7" />
<line x1="119.85" y1="412.40" x2="119.85" y2="417.10" stroke="#3a3a3a" stroke-width="0.9" />
<text x="119.85" y="425.12" font-size="8.1" text-anchor="middle" fill="#222" stroke="#222" >SW1573</text>
<text x="119.85" y="438.22" font-size="8.1" text-anchor="middle" fill="#222" stroke="#222" >0.78</text>
<rect x="139.20" y="324.51" width="4.50" height="87.89" fill="#a1a1a3" />
<line x1="141.45" y1="320.10" x2="141.45" y2="328.93" stroke="#333" stroke-width="0.7" />
<line x1="140.15" y1="320.10" x2="142.75" y2="320.10" stroke="#333" stroke-width="0.7" />
<line x1="140.15" y1="328.93" x2="142.75" y2="328.93" stroke="#333" stroke-width="0.7" />
<rect x="146.05" y="366.47" width="4.50" height="45.93" fill="#909ccb" />
<line x1="148.30" y1="365.76" x2="148.30" y2="367.18" stroke="#333" stroke-width="0.7" />
<line x1="147.00" y1="365.76" x2="149.60" y2="365.76" stroke="#333" stroke-width="0.7" />
<line x1="147.00" y1="367.18" x2="149.60" y2="367.18" stroke="#333" stroke-width="0.7" />
<rect x="152.90" y="369.56" width="4.50" height="42.84" fill="#4672be" />
<line x1="155.15" y1="366.73" x2="155.15" y2="372.39" stroke="#333" stroke-width="0.7" />
<line x1="153.85" y1="366.73" x2="156.45" y2="366.73" stroke="#333" stroke-width="0.7" />
<line x1="153.85" y1="372.39" x2="156.45" y2="372.39" stroke="#333" stroke-width="0.7" />
<rect x="159.75" y="391.64" width="4.50" height="20.76" fill="#e0913c" />
<line x1="162.00" y1="390.58" x2="162.00" y2="392.70" stroke="#333" stroke-width="0.7" />
<line x1="160.70" y1="390.58" x2="163.30" y2="390.58" stroke="#333" stroke-width="0.7" />
<line x1="160.70" y1="392.70" x2="163.30" y2="392.70" stroke="#333" stroke-width="0.7" />
<line x1="151.75" y1="412.40" x2="151.75" y2="417.10" stroke="#3a3a3a" stroke-width="0.9" />
<text x="151.75" y="425.12" font-size="8.1" text-anchor="middle" fill="#222" stroke="#222" >H2030</text>
<text x="151.75" y="438.22" font-size="8.1" text-anchor="middle" fill="#222" stroke="#222" >0.98</text>
<rect x="171.10" y="324.95" width="4.50" height="87.45" fill="#a1a1a3" />
<line x1="173.35" y1="323.63" x2="173.35" y2="326.28" stroke="#333" stroke-width="0.7" />
<line x1="172.05" y1="323.63" x2="174.65" y2="323.63" stroke="#333" stroke-width="0.7" />
<line x1="172.05" y1="326.28" x2="174.65" y2="326.28" stroke="#333" stroke-width="0.7" />
<rect x="177.95" y="328.93" width="4.50" height="83.47" fill="#909ccb" />
<line x1="180.20" y1="328.49" x2="180.20" y2="329.37" stroke="#333" stroke-width="0.7" />
<line x1="178.90" y1="328.49" x2="181.50" y2="328.49" stroke="#333" stroke-width="0.7" />
<line x1="178.90" y1="329.37" x2="181.50" y2="329.37" stroke="#333" stroke-width="0.7" />
<rect x="184.80" y="343.94" width="4.50" height="68.46" fill="#4672be" />
<line x1="187.05" y1="342.88" x2="187.05" y2="345.00" stroke="#333" stroke-width="0.7" />
<line x1="185.75" y1="342.88" x2="188.35" y2="342.88" stroke="#333" stroke-width="0.7" />
<line x1="185.75" y1="345.00" x2="188.35" y2="345.00" stroke="#333" stroke-width="0.7" />
<rect x="191.65" y="351.01" width="4.50" height="61.39" fill="#e0913c" />
<line x1="193.90" y1="349.95" x2="193.90" y2="352.07" stroke="#333" stroke-width="0.7" />
<line x1="192.60" y1="349.95" x2="195.20" y2="349.95" stroke="#333" stroke-width="0.7" />
<line x1="192.60" y1="352.07" x2="195.20" y2="352.07" stroke="#333" stroke-width="0.7" />
<line x1="183.65" y1="412.40" x2="183.65" y2="417.10" stroke="#3a3a3a" stroke-width="0.9" />
<text x="183.65" y="425.12" font-size="8.1" text-anchor="middle" fill="#222" stroke="#222" >H1373</text>
<text x="183.65" y="438.22" font-size="8.1" text-anchor="middle" fill="#222" stroke="#222" >0.85</text>
<line x1="41.30" y1="306.35" x2="41.30" y2="412.80" stroke="#3a3a3a" stroke-width="0.9" />
<line x1="41.30" y1="412.40" x2="199.50" y2="412.40" stroke="#3a3a3a" stroke-width="0.9" />
<line x1="36.95" y1="412.40" x2="41.30" y2="412.40" stroke="#3a3a3a" stroke-width="0.9" />
<text x="35.80" y="415.24" font-size="7.9" text-anchor="end" fill="#222" stroke="#222" >0</text>
<line x1="36.95" y1="377.07" x2="41.30" y2="377.07" stroke="#3a3a3a" stroke-width="0.9" />
<text x="35.80" y="379.91" font-size="7.9" text-anchor="end" fill="#222" stroke="#222" >40</text>
<line x1="36.95" y1="341.74" x2="41.30" y2="341.74" stroke="#3a3a3a" stroke-width="0.9" />
<text x="35.80" y="344.58" font-size="7.9" text-anchor="end" fill="#222" stroke="#222" >80</text>
<line x1="36.95" y1="306.40" x2="41.30" y2="306.40" stroke="#3a3a3a" stroke-width="0.9" />
<text x="35.80" y="309.25" font-size="7.9" text-anchor="end" fill="#222" stroke="#222" >120</text>
<text x="0" y="0" font-size="8.1" text-anchor="middle" fill="#222" stroke="#222" transform="translate(20.92 359.50) rotate(-90)">Cell viability (%)</text>
<text x="3.80" y="438.22" font-size="8.1" fill="#222" stroke="#222" >CI value</text>
<line x1="45.80" y1="429.00" x2="198.00" y2="429.00" stroke="#b5b5b5" stroke-width="0.8" />
<line x1="53.25" y1="324.50" x2="68.00" y2="324.50" stroke="#333" stroke-width="0.85" />
<text x="60.62" y="324.82" font-size="8.1" text-anchor="middle" fill="#222" stroke="#222" >**</text>
<line x1="59.00" y1="336.50" x2="68.00" y2="336.50" stroke="#333" stroke-width="0.85" />
<text x="63.50" y="336.82" font-size="8.1" text-anchor="middle" fill="#222" stroke="#222" >***</text>
<line x1="85.25" y1="327.50" x2="100.75" y2="327.50" stroke="#333" stroke-width="0.85" />
<text x="93.00" y="327.82" font-size="8.1" text-anchor="middle" fill="#222" stroke="#222" >***</text>
<line x1="92.25" y1="340.25" x2="100.75" y2="340.25" stroke="#333" stroke-width="0.85" />
<text x="96.50" y="340.57" font-size="8.1" text-anchor="middle" fill="#222" stroke="#222" >***</text>
<line x1="117.00" y1="325.25" x2="131.00" y2="325.25" stroke="#333" stroke-width="0.85" />
<text x="124.00" y="325.57" font-size="8.1" text-anchor="middle" fill="#222" stroke="#222" >***</text>
<line x1="123.00" y1="347.75" x2="132.75" y2="347.75" stroke="#333" stroke-width="0.85" />
<text x="127.88" y="348.07" font-size="8.1" text-anchor="middle" fill="#222" stroke="#222" >***</text>
<line x1="148.00" y1="347.75" x2="161.75" y2="347.75" stroke="#333" stroke-width="0.85" />
<text x="154.88" y="348.07" font-size="8.1" text-anchor="middle" fill="#222" stroke="#222" >***</text>
<line x1="154.50" y1="360.25" x2="163.75" y2="360.25" stroke="#333" stroke-width="0.85" />
<text x="159.12" y="360.57" font-size="8.1" text-anchor="middle" fill="#222" stroke="#222" >**</text>
<line x1="180.50" y1="324.00" x2="193.75" y2="324.00" stroke="#333" stroke-width="0.85" />
<text x="187.12" y="324.32" font-size="8.1" text-anchor="middle" fill="#222" stroke="#222" >***</text>
<line x1="187.00" y1="336.50" x2="195.50" y2="336.50" stroke="#333" stroke-width="0.85" />
<text x="191.25" y="336.82" font-size="8.1" text-anchor="middle" fill="#222" stroke="#222" >**</text>
<rect x="209.50" y="313.90" width="10.50" height="5.20" fill="#a1a1a3" />
<text x="225.50" y="319.42" font-size="8.1" fill="#222" stroke="#222" >DMSO</text>
<rect x="209.50" y="327.00" width="10.50" height="5.20" fill="#909ccb" />
<text x="225.50" y="332.52" font-size="8.1" fill="#222" stroke="#222" >AMG-510</text>
<rect x="209.50" y="340.10" width="10.50" height="5.20" fill="#4672be" />
<text x="225.50" y="345.62" font-size="8.1" fill="#222" stroke="#222" >Arg-Cit+</text>
<rect x="209.50" y="353.20" width="10.50" height="5.20" fill="#e0913c" />
<text x="225.50" y="358.72" font-size="8.1" fill="#222" stroke="#222" >Combo</text>
<text x="272.40" y="306.80" font-size="15" font-weight="bold" fill="#000" stroke="#000" >G</text>
<text x="348.80" y="326.12" font-size="8.1" text-anchor="middle" fill="#222" stroke="#222" >SW1573</text>
<line x1="305.60" y1="332.10" x2="305.60" y2="417.90" stroke="#3a3a3a" stroke-width="0.9" />
<line x1="305.60" y1="417.50" x2="387.50" y2="417.50" stroke="#3a3a3a" stroke-width="0.9" />
<line x1="302.70" y1="417.50" x2="305.60" y2="417.50" stroke="#3a3a3a" stroke-width="0.9" />
<text x="302.10" y="420.31" font-size="7.8" text-anchor="end" fill="#222" stroke="#222" >0</text>
<line x1="302.70" y1="375.00" x2="305.60" y2="375.00" stroke="#3a3a3a" stroke-width="0.9" />
<text x="302.10" y="377.81" font-size="7.8" text-anchor="end" fill="#222" stroke="#222" >500</text>
<line x1="302.70" y1="332.50" x2="305.60" y2="332.50" stroke="#3a3a3a" stroke-width="0.9" />
<text x="302.10" y="335.31" font-size="7.8" text-anchor="end" fill="#222" stroke="#222" >1,000</text>
<line x1="305.60" y1="417.50" x2="305.60" y2="419.90" stroke="#3a3a3a" stroke-width="0.9" />
<text x="305.60" y="427.04" font-size="7.9" text-anchor="middle" fill="#222" stroke="#222" >0</text>
<line x1="322.03" y1="417.50" x2="322.03" y2="419.90" stroke="#3a3a3a" stroke-width="0.9" />
<text x="322.03" y="427.04" font-size="7.9" text-anchor="middle" fill="#222" stroke="#222" >5</text>
<line x1="338.45" y1="417.50" x2="338.45" y2="419.90" stroke="#3a3a3a" stroke-width="0.9" />
<text x="338.45" y="427.04" font-size="7.9" text-anchor="middle" fill="#222" stroke="#222" >10</text>
<line x1="354.88" y1="417.50" x2="354.88" y2="419.90" stroke="#3a3a3a" stroke-width="0.9" />
<text x="354.88" y="427.04" font-size="7.9" text-anchor="middle" fill="#222" stroke="#222" >15</text>
<line x1="371.30" y1="417.50" x2="371.30" y2="419.90" stroke="#3a3a3a" stroke-width="0.9" />
<text x="371.30" y="427.04" font-size="7.9" text-anchor="middle" fill="#222" stroke="#222" >20</text>
<line x1="387.73" y1="417.50" x2="387.73" y2="419.90" stroke="#3a3a3a" stroke-width="0.9" />
<text x="387.73" y="427.04" font-size="7.9" text-anchor="middle" fill="#222" stroke="#222" >25</text>
<text x="346.50" y="438.42" font-size="8.1" text-anchor="middle" fill="#222" stroke="#222" >Days of grouping</text>
<text x="0" y="0" font-size="8.1" text-anchor="middle" fill="#222" stroke="#222" transform="translate(280.5 376) rotate(-90)">Tumor volume (mm<tspan font-size="5" dy="-3">3</tspan><tspan dy="3">)</tspan></text>
<line x1="308.75" y1="409.00" x2="308.75" y2="411.00" stroke="#f6c195" stroke-width="0.6" />
<line x1="306.55" y1="409.00" x2="310.95" y2="409.00" stroke="#f6c195" stroke-width="0.6" />
<line x1="306.55" y1="411.00" x2="310.95" y2="411.00" stroke="#f6c195" stroke-width="0.6" />
<line x1="318.25" y1="407.75" x2="318.25" y2="409.75" stroke="#f6c195" stroke-width="0.6" />
<line x1="316.05" y1="407.75" x2="320.45" y2="407.75" stroke="#f6c195" stroke-width="0.6" />
<line x1="316.05" y1="409.75" x2="320.45" y2="409.75" stroke="#f6c195" stroke-width="0.6" />
<line x1="328.25" y1="403.50" x2="328.25" y2="406.50" stroke="#f6c195" stroke-width="0.6" />
<line x1="326.05" y1="403.50" x2="330.45" y2="403.50" stroke="#f6c195" stroke-width="0.6" />
<line x1="326.05" y1="406.50" x2="330.45" y2="406.50" stroke="#f6c195" stroke-width="0.6" />
<line x1="338.00" y1="399.25" x2="338.00" y2="403.25" stroke="#f6c195" stroke-width="0.6" />
<line x1="335.80" y1="399.25" x2="340.20" y2="399.25" stroke="#f6c195" stroke-width="0.6" />
<line x1="335.80" y1="403.25" x2="340.20" y2="403.25" stroke="#f6c195" stroke-width="0.6" />
<line x1="348.00" y1="390.75" x2="348.00" y2="395.75" stroke="#f6c195" stroke-width="0.6" />
<line x1="345.80" y1="390.75" x2="350.20" y2="390.75" stroke="#f6c195" stroke-width="0.6" />
<line x1="345.80" y1="395.75" x2="350.20" y2="395.75" stroke="#f6c195" stroke-width="0.6" />
<line x1="357.75" y1="386.00" x2="357.75" y2="394.00" stroke="#f6c195" stroke-width="0.6" />
<line x1="355.55" y1="386.00" x2="359.95" y2="386.00" stroke="#f6c195" stroke-width="0.6" />
<line x1="355.55" y1="394.00" x2="359.95" y2="394.00" stroke="#f6c195" stroke-width="0.6" />
<line x1="367.50" y1="379.50" x2="367.50" y2="385.50" stroke="#f6c195" stroke-width="0.6" />
<line x1="365.30" y1="379.50" x2="369.70" y2="379.50" stroke="#f6c195" stroke-width="0.6" />
<line x1="365.30" y1="385.50" x2="369.70" y2="385.50" stroke="#f6c195" stroke-width="0.6" />
<line x1="380.75" y1="371.30" x2="380.75" y2="377.70" stroke="#f6c195" stroke-width="0.6" />
<line x1="378.55" y1="371.30" x2="382.95" y2="371.30" stroke="#f6c195" stroke-width="0.6" />
<line x1="378.55" y1="377.70" x2="382.95" y2="377.70" stroke="#f6c195" stroke-width="0.6" />
<polyline fill="none" stroke="#f2a766" stroke-width="0.8" points="308.75,410.00 318.25,408.75 328.25,405.00 338.00,401.25 348.00,393.25 357.75,390.00 367.50,382.50 380.75,374.50"/>
<polygon points="308.75,407.61 306.56,411.80 310.94,411.80" fill="#f2a766"/>
<polygon points="318.25,406.36 316.06,410.55 320.44,410.55" fill="#f2a766"/>
<polygon points="328.25,402.61 326.06,406.80 330.44,406.80" fill="#f2a766"/>
<polygon points="338.00,398.86 335.81,403.05 340.19,403.05" fill="#f2a766"/>
<polygon points="348.00,390.86 345.81,395.05 350.19,395.05" fill="#f2a766"/>
<polygon points="357.75,387.61 355.56,391.80 359.94,391.80" fill="#f2a766"/>
<polygon points="367.50,380.11 365.31,384.30 369.69,384.30" fill="#f2a766"/>
<polygon points="380.75,372.11 378.56,376.30 382.94,376.30" fill="#f2a766"/>
<line x1="308.75" y1="409.00" x2="308.75" y2="411.00" stroke="#eeb780" stroke-width="0.6" />
<line x1="306.55" y1="409.00" x2="310.95" y2="409.00" stroke="#eeb780" stroke-width="0.6" />
<line x1="306.55" y1="411.00" x2="310.95" y2="411.00" stroke="#eeb780" stroke-width="0.6" />
<line x1="318.25" y1="407.00" x2="318.25" y2="409.00" stroke="#eeb780" stroke-width="0.6" />
<line x1="316.05" y1="407.00" x2="320.45" y2="407.00" stroke="#eeb780" stroke-width="0.6" />
<line x1="316.05" y1="409.00" x2="320.45" y2="409.00" stroke="#eeb780" stroke-width="0.6" />
<line x1="328.25" y1="396.00" x2="328.25" y2="400.00" stroke="#eeb780" stroke-width="0.6" />
<line x1="326.05" y1="396.00" x2="330.45" y2="396.00" stroke="#eeb780" stroke-width="0.6" />
<line x1="326.05" y1="400.00" x2="330.45" y2="400.00" stroke="#eeb780" stroke-width="0.6" />
<line x1="338.00" y1="390.25" x2="338.00" y2="396.25" stroke="#eeb780" stroke-width="0.6" />
<line x1="335.80" y1="390.25" x2="340.20" y2="390.25" stroke="#eeb780" stroke-width="0.6" />
<line x1="335.80" y1="396.25" x2="340.20" y2="396.25" stroke="#eeb780" stroke-width="0.6" />
<line x1="348.00" y1="370.00" x2="348.00" y2="378.00" stroke="#eeb780" stroke-width="0.6" />
<line x1="345.80" y1="370.00" x2="350.20" y2="370.00" stroke="#eeb780" stroke-width="0.6" />
<line x1="345.80" y1="378.00" x2="350.20" y2="378.00" stroke="#eeb780" stroke-width="0.6" />
<line x1="357.75" y1="365.25" x2="357.75" y2="372.25" stroke="#eeb780" stroke-width="0.6" />
<line x1="355.55" y1="365.25" x2="359.95" y2="365.25" stroke="#eeb780" stroke-width="0.6" />
<line x1="355.55" y1="372.25" x2="359.95" y2="372.25" stroke="#eeb780" stroke-width="0.6" />
<line x1="367.50" y1="357.25" x2="367.50" y2="364.25" stroke="#eeb780" stroke-width="0.6" />
<line x1="365.30" y1="357.25" x2="369.70" y2="357.25" stroke="#eeb780" stroke-width="0.6" />
<line x1="365.30" y1="364.25" x2="369.70" y2="364.25" stroke="#eeb780" stroke-width="0.6" />
<line x1="380.75" y1="348.00" x2="380.75" y2="358.00" stroke="#eeb780" stroke-width="0.6" />
<line x1="378.55" y1="348.00" x2="382.95" y2="348.00" stroke="#eeb780" stroke-width="0.6" />
<line x1="378.55" y1="358.00" x2="382.95" y2="358.00" stroke="#eeb780" stroke-width="0.6" />
<polyline fill="none" stroke="#e0913c" stroke-width="0.8" points="308.75,410.00 318.25,408.00 328.25,398.00 338.00,393.25 348.00,374.00 357.75,368.75 367.50,360.75 380.75,353.00"/>
<rect x="306.85" y="408.10" width="3.80" height="3.80" fill="#e0913c" />
<rect x="316.35" y="406.10" width="3.80" height="3.80" fill="#e0913c" />
<rect x="326.35" y="396.10" width="3.80" height="3.80" fill="#e0913c" />
<rect x="336.10" y="391.35" width="3.80" height="3.80" fill="#e0913c" />
<rect x="346.10" y="372.10" width="3.80" height="3.80" fill="#e0913c" />
<rect x="355.85" y="366.85" width="3.80" height="3.80" fill="#e0913c" />
<rect x="365.60" y="358.85" width="3.80" height="3.80" fill="#e0913c" />
<rect x="378.85" y="351.10" width="3.80" height="3.80" fill="#e0913c" />
<line x1="308.75" y1="409.00" x2="308.75" y2="411.00" stroke="#9cc4ea" stroke-width="0.6" />
<line x1="306.55" y1="409.00" x2="310.95" y2="409.00" stroke="#9cc4ea" stroke-width="0.6" />
<line x1="306.55" y1="411.00" x2="310.95" y2="411.00" stroke="#9cc4ea" stroke-width="0.6" />
<line x1="318.25" y1="407.00" x2="318.25" y2="409.00" stroke="#9cc4ea" stroke-width="0.6" />
<line x1="316.05" y1="407.00" x2="320.45" y2="407.00" stroke="#9cc4ea" stroke-width="0.6" />
<line x1="316.05" y1="409.00" x2="320.45" y2="409.00" stroke="#9cc4ea" stroke-width="0.6" />
<line x1="328.25" y1="401.75" x2="328.25" y2="405.75" stroke="#9cc4ea" stroke-width="0.6" />
<line x1="326.05" y1="401.75" x2="330.45" y2="401.75" stroke="#9cc4ea" stroke-width="0.6" />
<line x1="326.05" y1="405.75" x2="330.45" y2="405.75" stroke="#9cc4ea" stroke-width="0.6" />
<line x1="338.00" y1="392.00" x2="338.00" y2="398.00" stroke="#9cc4ea" stroke-width="0.6" />
<line x1="335.80" y1="392.00" x2="340.20" y2="392.00" stroke="#9cc4ea" stroke-width="0.6" />
<line x1="335.80" y1="398.00" x2="340.20" y2="398.00" stroke="#9cc4ea" stroke-width="0.6" />
<line x1="348.00" y1="370.50" x2="348.00" y2="382.50" stroke="#9cc4ea" stroke-width="0.6" />
<line x1="345.80" y1="370.50" x2="350.20" y2="370.50" stroke="#9cc4ea" stroke-width="0.6" />
<line x1="345.80" y1="382.50" x2="350.20" y2="382.50" stroke="#9cc4ea" stroke-width="0.6" />
<line x1="357.75" y1="369.75" x2="357.75" y2="377.75" stroke="#9cc4ea" stroke-width="0.6" />
<line x1="355.55" y1="369.75" x2="359.95" y2="369.75" stroke="#9cc4ea" stroke-width="0.6" />
<line x1="355.55" y1="377.75" x2="359.95" y2="377.75" stroke="#9cc4ea" stroke-width="0.6" />
<line x1="367.50" y1="357.50" x2="367.50" y2="367.50" stroke="#9cc4ea" stroke-width="0.6" />
<line x1="365.30" y1="357.50" x2="369.70" y2="357.50" stroke="#9cc4ea" stroke-width="0.6" />
<line x1="365.30" y1="367.50" x2="369.70" y2="367.50" stroke="#9cc4ea" stroke-width="0.6" />
<line x1="380.75" y1="348.00" x2="380.75" y2="358.00" stroke="#9cc4ea" stroke-width="0.6" />
<line x1="378.55" y1="348.00" x2="382.95" y2="348.00" stroke="#9cc4ea" stroke-width="0.6" />
<line x1="378.55" y1="358.00" x2="382.95" y2="358.00" stroke="#9cc4ea" stroke-width="0.6" />
<polyline fill="none" stroke="#5b9bd5" stroke-width="0.8" points="308.75,410.00 318.25,408.00 328.25,403.75 338.00,395.00 348.00,376.50 357.75,373.75 367.50,362.50 380.75,353.00"/>
<polygon points="308.75,407.61 306.56,411.80 310.94,411.80" fill="#5b9bd5"/>
<polygon points="318.25,405.61 316.06,409.80 320.44,409.80" fill="#5b9bd5"/>
<polygon points="328.25,401.36 326.06,405.55 330.44,405.55" fill="#5b9bd5"/>
<polygon points="338.00,392.61 335.81,396.80 340.19,396.80" fill="#5b9bd5"/>
<polygon points="348.00,374.11 345.81,378.30 350.19,378.30" fill="#5b9bd5"/>
<polygon points="357.75,371.36 355.56,375.55 359.94,375.55" fill="#5b9bd5"/>
<polygon points="367.50,360.11 365.31,364.30 369.69,364.30" fill="#5b9bd5"/>
<polygon points="380.75,350.61 378.56,354.80 382.94,354.80" fill="#5b9bd5"/>
<line x1="308.75" y1="408.00" x2="308.75" y2="411.00" stroke="#8fb3df" stroke-width="0.6" />
<line x1="306.55" y1="408.00" x2="310.95" y2="408.00" stroke="#8fb3df" stroke-width="0.6" />
<line x1="306.55" y1="411.00" x2="310.95" y2="411.00" stroke="#8fb3df" stroke-width="0.6" />
<line x1="318.25" y1="404.25" x2="318.25" y2="407.25" stroke="#8fb3df" stroke-width="0.6" />
<line x1="316.05" y1="404.25" x2="320.45" y2="404.25" stroke="#8fb3df" stroke-width="0.6" />
<line x1="316.05" y1="407.25" x2="320.45" y2="407.25" stroke="#8fb3df" stroke-width="0.6" />
<line x1="328.25" y1="393.50" x2="328.25" y2="397.50" stroke="#8fb3df" stroke-width="0.6" />
<line x1="326.05" y1="393.50" x2="330.45" y2="393.50" stroke="#8fb3df" stroke-width="0.6" />
<line x1="326.05" y1="397.50" x2="330.45" y2="397.50" stroke="#8fb3df" stroke-width="0.6" />
<line x1="338.00" y1="384.25" x2="338.00" y2="389.25" stroke="#8fb3df" stroke-width="0.6" />
<line x1="335.80" y1="384.25" x2="340.20" y2="384.25" stroke="#8fb3df" stroke-width="0.6" />
<line x1="335.80" y1="389.25" x2="340.20" y2="389.25" stroke="#8fb3df" stroke-width="0.6" />
<line x1="348.00" y1="359.25" x2="348.00" y2="369.25" stroke="#8fb3df" stroke-width="0.6" />
<line x1="345.80" y1="359.25" x2="350.20" y2="359.25" stroke="#8fb3df" stroke-width="0.6" />
<line x1="345.80" y1="369.25" x2="350.20" y2="369.25" stroke="#8fb3df" stroke-width="0.6" />
<line x1="357.75" y1="348.25" x2="357.75" y2="359.25" stroke="#8fb3df" stroke-width="0.6" />
<line x1="355.55" y1="348.25" x2="359.95" y2="348.25" stroke="#8fb3df" stroke-width="0.6" />
<line x1="355.55" y1="359.25" x2="359.95" y2="359.25" stroke="#8fb3df" stroke-width="0.6" />
<line x1="367.50" y1="348.00" x2="367.50" y2="356.00" stroke="#8fb3df" stroke-width="0.6" />
<line x1="365.30" y1="348.00" x2="369.70" y2="348.00" stroke="#8fb3df" stroke-width="0.6" />
<line x1="365.30" y1="356.00" x2="369.70" y2="356.00" stroke="#8fb3df" stroke-width="0.6" />
<line x1="380.75" y1="336.00" x2="380.75" y2="344.00" stroke="#8fb3df" stroke-width="0.6" />
<line x1="378.55" y1="336.00" x2="382.95" y2="336.00" stroke="#8fb3df" stroke-width="0.6" />
<line x1="378.55" y1="344.00" x2="382.95" y2="344.00" stroke="#8fb3df" stroke-width="0.6" />
<polyline fill="none" stroke="#3364a9" stroke-width="0.8" points="308.75,409.50 318.25,405.75 328.25,395.50 338.00,386.75 348.00,364.25 357.75,353.75 367.50,352.00 380.75,340.00"/>
<circle cx="308.75" cy="409.50" r="2.2" fill="#3364a9" stroke="none" stroke-width="0.5"/>
<circle cx="318.25" cy="405.75" r="2.2" fill="#3364a9" stroke="none" stroke-width="0.5"/>
<circle cx="328.25" cy="395.50" r="2.2" fill="#3364a9" stroke="none" stroke-width="0.5"/>
<circle cx="338.00" cy="386.75" r="2.2" fill="#3364a9" stroke="none" stroke-width="0.5"/>
<circle cx="348.00" cy="364.25" r="2.2" fill="#3364a9" stroke="none" stroke-width="0.5"/>
<circle cx="357.75" cy="353.75" r="2.2" fill="#3364a9" stroke="none" stroke-width="0.5"/>
<circle cx="367.50" cy="352.00" r="2.2" fill="#3364a9" stroke="none" stroke-width="0.5"/>
<circle cx="380.75" cy="340.00" r="2.2" fill="#3364a9" stroke="none" stroke-width="0.5"/>
<line x1="384.50" y1="353.00" x2="384.50" y2="374.50" stroke="#333" stroke-width="0.9" />
<text font-size="8.1" text-anchor="middle" fill="#222" stroke="#222" transform="translate(383.8 363.7) rotate(90)">***</text>
<line x1="397.50" y1="344.25" x2="413.30" y2="344.25" stroke="#3364a9" stroke-width="0.8" />
<circle cx="405.50" cy="344.25" r="2.4" fill="#3364a9" stroke="none" stroke-width="0.5"/>
<text x="416.30" y="347.17" font-size="8.1" fill="#222" stroke="#222" >AA diet</text>
<line x1="397.50" y1="353.95" x2="413.30" y2="353.95" stroke="#5b9bd5" stroke-width="0.8" />
<polygon points="405.50,351.31 403.08,355.93 407.92,355.93" fill="#5b9bd5"/>
<text x="416.30" y="356.87" font-size="8.1" fill="#222" stroke="#222" >AA diet+ AMG-510</text>
<line x1="397.50" y1="363.65" x2="413.30" y2="363.65" stroke="#e0913c" stroke-width="0.8" />
<rect x="403.20" y="361.35" width="4.60" height="4.60" fill="#e0913c" />
<text x="416.30" y="366.57" font-size="8.1" fill="#222" stroke="#222" >AD diet</text>
<line x1="397.50" y1="373.35" x2="413.30" y2="373.35" stroke="#f2a766" stroke-width="0.8" />
<polygon points="405.50,370.71 403.08,375.33 407.92,375.33" fill="#f2a766"/>
<text x="416.30" y="376.27" font-size="8.1" fill="#222" stroke="#222" >AD diet + AMG-510</text>
<text x="-0.20" y="462.30" font-size="15" font-weight="bold" fill="#000" stroke="#000" >H</text>
<text x="41.3" y="472.9" font-size="8.1" fill="#222" stroke="#222"><tspan font-size="3.9" dy="-3.2" stroke-width="0.05">13</tspan><tspan dy="3.2">C-Arginine</tspan></text>
<line x1="62.80" y1="477.70" x2="62.80" y2="499.74" stroke="#1f72c4" stroke-width="1.5" />
<polygon points="62.80,504.20 59.90,498.00 62.80,499.74 65.70,498.00" fill="#1f72c4"/>
<text x="51.30" y="493.72" font-size="8.1" text-anchor="middle" font-weight="bold" fill="#df8c35" stroke="#df8c35" >ARG</text>
<text x="30.80" y="514.67" font-size="7.7" font-weight="bold" fill="#1f74c9" stroke="#1f74c9" >M+5</text>
<text x="47.50" y="514.82" font-size="8.1" fill="#222" stroke="#222" >Ornithine</text>
<line x1="57.80" y1="517.00" x2="33.25" y2="531.35" stroke="#1f72c4" stroke-width="1.5" />
<polygon points="29.40,533.60 33.29,527.97 33.25,531.35 36.22,532.97" fill="#1f72c4"/>
<line x1="62.80" y1="516.50" x2="62.80" y2="544.74" stroke="#1f72c4" stroke-width="1.5" />
<polygon points="62.80,549.20 59.90,543.00 62.80,544.74 65.70,543.00" fill="#1f72c4"/>
<line x1="68.20" y1="516.50" x2="87.95" y2="530.43" stroke="#1f72c4" stroke-width="1.5" />
<polygon points="91.60,533.00 84.86,531.80 87.95,530.43 88.20,527.06" fill="#1f72c4"/>
<text x="51.90" y="533.72" font-size="8.1" text-anchor="middle" font-weight="bold" fill="#df8c35" stroke="#df8c35" >ODC</text>
<text x="0.00" y="542.22" font-size="8.1" fill="#222" stroke="#222" >Glutamate</text>
<text x="86.30" y="542.12" font-size="8.1" fill="#222" stroke="#222" >Proline</text>
<text x="27.50" y="555.97" font-size="7.7" font-weight="bold" fill="#1f74c9" stroke="#1f74c9" >M+4</text>
<text x="45.00" y="556.12" font-size="8.1" fill="#222" stroke="#222" >Putrescine</text>
<text x="218.00" y="458.72" font-size="8.1" text-anchor="middle" fill="#222" stroke="#222" >H1792</text>
<line x1="151.30" y1="462.20" x2="297.00" y2="462.20" stroke="#3a3a3a" stroke-width="0.7" />
<text x="418.80" y="458.72" font-size="8.1" text-anchor="middle" fill="#222" stroke="#222" >SW1573</text>
<line x1="352.50" y1="462.40" x2="498.40" y2="462.40" stroke="#3a3a3a" stroke-width="0.7" />
<rect x="150.25" y="504.98" width="7.00" height="25.66" fill="#5976af" />
<rect x="150.25" y="530.64" width="7.00" height="19.71" fill="#c1c1c1" />
<line x1="153.75" y1="500.85" x2="153.75" y2="509.10" stroke="#2a2a2a" stroke-width="0.75" />
<line x1="151.95" y1="500.85" x2="155.55" y2="500.85" stroke="#2a2a2a" stroke-width="0.75" />
<line x1="151.95" y1="509.10" x2="155.55" y2="509.10" stroke="#2a2a2a" stroke-width="0.75" />
<line x1="153.75" y1="526.52" x2="153.75" y2="534.77" stroke="#2a2a2a" stroke-width="0.75" />
<line x1="151.95" y1="526.52" x2="155.55" y2="526.52" stroke="#2a2a2a" stroke-width="0.75" />
<line x1="151.95" y1="534.77" x2="155.55" y2="534.77" stroke="#2a2a2a" stroke-width="0.75" />
<rect x="161.00" y="504.98" width="7.00" height="34.14" fill="#5976af" />
<rect x="161.00" y="539.12" width="7.00" height="11.23" fill="#c1c1c1" />
<line x1="164.50" y1="503.37" x2="164.50" y2="506.58" stroke="#2a2a2a" stroke-width="0.75" />
<line x1="162.70" y1="503.37" x2="166.30" y2="503.37" stroke="#2a2a2a" stroke-width="0.75" />
<line x1="162.70" y1="506.58" x2="166.30" y2="506.58" stroke="#2a2a2a" stroke-width="0.75" />
<line x1="164.50" y1="537.52" x2="164.50" y2="540.73" stroke="#2a2a2a" stroke-width="0.75" />
<line x1="162.70" y1="537.52" x2="166.30" y2="537.52" stroke="#2a2a2a" stroke-width="0.75" />
<line x1="162.70" y1="540.73" x2="166.30" y2="540.73" stroke="#2a2a2a" stroke-width="0.75" />
<rect x="171.50" y="504.98" width="7.00" height="38.04" fill="#5976af" />
<rect x="171.50" y="543.02" width="7.00" height="7.33" fill="#c1c1c1" />
<line x1="175.00" y1="504.52" x2="175.00" y2="505.44" stroke="#2a2a2a" stroke-width="0.75" />
<line x1="173.20" y1="504.52" x2="176.80" y2="504.52" stroke="#2a2a2a" stroke-width="0.75" />
<line x1="173.20" y1="505.44" x2="176.80" y2="505.44" stroke="#2a2a2a" stroke-width="0.75" />
<line x1="175.00" y1="542.47" x2="175.00" y2="543.57" stroke="#2a2a2a" stroke-width="0.75" />
<line x1="173.20" y1="542.47" x2="176.80" y2="542.47" stroke="#2a2a2a" stroke-width="0.75" />
<line x1="173.20" y1="543.57" x2="176.80" y2="543.57" stroke="#2a2a2a" stroke-width="0.75" />
<rect x="182.25" y="504.98" width="7.00" height="38.50" fill="#5976af" />
<rect x="182.25" y="543.48" width="7.00" height="6.87" fill="#c1c1c1" />
<line x1="185.75" y1="504.61" x2="185.75" y2="505.34" stroke="#2a2a2a" stroke-width="0.75" />
<line x1="183.95" y1="504.61" x2="187.55" y2="504.61" stroke="#2a2a2a" stroke-width="0.75" />
<line x1="183.95" y1="505.34" x2="187.55" y2="505.34" stroke="#2a2a2a" stroke-width="0.75" />
<line x1="185.75" y1="543.02" x2="185.75" y2="543.93" stroke="#2a2a2a" stroke-width="0.75" />
<line x1="183.95" y1="543.02" x2="187.55" y2="543.02" stroke="#2a2a2a" stroke-width="0.75" />
<line x1="183.95" y1="543.93" x2="187.55" y2="543.93" stroke="#2a2a2a" stroke-width="0.75" />
<line x1="146.70" y1="481.21" x2="146.70" y2="550.75" stroke="#3a3a3a" stroke-width="0.9" />
<line x1="146.70" y1="550.35" x2="192.50" y2="550.35" stroke="#3a3a3a" stroke-width="0.9" />
<line x1="144.70" y1="550.35" x2="146.70" y2="550.35" stroke="#3a3a3a" stroke-width="0.9" />
<text x="144.10" y="553.19" font-size="7.9" text-anchor="end" fill="#222" stroke="#222" >0</text>
<line x1="144.70" y1="527.44" x2="146.70" y2="527.44" stroke="#3a3a3a" stroke-width="0.9" />
<text x="144.10" y="530.28" font-size="7.9" text-anchor="end" fill="#222" stroke="#222" >50</text>
<line x1="144.70" y1="504.52" x2="146.70" y2="504.52" stroke="#3a3a3a" stroke-width="0.9" />
<text x="144.10" y="507.36" font-size="7.9" text-anchor="end" fill="#222" stroke="#222" >100</text>
<line x1="144.70" y1="481.61" x2="146.70" y2="481.61" stroke="#3a3a3a" stroke-width="0.9" />
<text x="144.10" y="484.45" font-size="7.9" text-anchor="end" fill="#222" stroke="#222" >150</text>
<line x1="153.75" y1="550.35" x2="153.75" y2="552.75" stroke="#3a3a3a" stroke-width="0.9" />
<text x="153.75" y="561.17" font-size="8.1" text-anchor="middle" fill="#222" stroke="#222" >0.5</text>
<line x1="164.50" y1="550.35" x2="164.50" y2="552.75" stroke="#3a3a3a" stroke-width="0.9" />
<text x="164.50" y="561.17" font-size="8.1" text-anchor="middle" fill="#222" stroke="#222" >1</text>
<line x1="175.00" y1="550.35" x2="175.00" y2="552.75" stroke="#3a3a3a" stroke-width="0.9" />
<text x="175.00" y="561.17" font-size="8.1" text-anchor="middle" fill="#222" stroke="#222" >3</text>
<line x1="185.75" y1="550.35" x2="185.75" y2="552.75" stroke="#3a3a3a" stroke-width="0.9" />
<text x="185.75" y="561.17" font-size="8.1" text-anchor="middle" fill="#222" stroke="#222" >6</text>
<text x="146.60" y="561.17" font-size="8.1" text-anchor="end" fill="#222" stroke="#222" >Time (h)</text>
<text x="171.30" y="473.72" font-size="8.1" text-anchor="middle" fill="#222" stroke="#222" >Ornithine</text>
<text x="0" y="0" font-size="8.1" text-anchor="middle" fill="#222" stroke="#222" transform="translate(128.62 506.50) rotate(-90)">Fraction contribution (%)</text>
<rect x="194.50" y="487.00" width="10.00" height="4.80" fill="#5976af" />
<text x="206.30" y="492.32" font-size="8.1" fill="#222" stroke="#222" >M+5</text>
<rect x="194.50" y="498.20" width="10.00" height="4.80" fill="#c1c1c1" />
<text x="206.30" y="503.52" font-size="8.1" fill="#222" stroke="#222" >M+0</text>
<rect x="258.25" y="507.07" width="9.50" height="11.04" fill="#5976af" />
<rect x="258.25" y="518.11" width="9.50" height="32.69" fill="#c1c1c1" />
<line x1="263.00" y1="506.81" x2="263.00" y2="507.34" stroke="#2a2a2a" stroke-width="0.75" />
<line x1="261.20" y1="506.81" x2="264.80" y2="506.81" stroke="#2a2a2a" stroke-width="0.75" />
<line x1="261.20" y1="507.34" x2="264.80" y2="507.34" stroke="#2a2a2a" stroke-width="0.75" />
<line x1="263.00" y1="517.81" x2="263.00" y2="518.42" stroke="#2a2a2a" stroke-width="0.75" />
<line x1="261.20" y1="517.81" x2="264.80" y2="517.81" stroke="#2a2a2a" stroke-width="0.75" />
<line x1="261.20" y1="518.42" x2="264.80" y2="518.42" stroke="#2a2a2a" stroke-width="0.75" />
<rect x="272.50" y="507.73" width="9.50" height="27.61" fill="#5976af" />
<rect x="272.50" y="535.34" width="9.50" height="15.46" fill="#c1c1c1" />
<line x1="277.25" y1="507.47" x2="277.25" y2="508.00" stroke="#2a2a2a" stroke-width="0.75" />
<line x1="275.45" y1="507.47" x2="279.05" y2="507.47" stroke="#2a2a2a" stroke-width="0.75" />
<line x1="275.45" y1="508.00" x2="279.05" y2="508.00" stroke="#2a2a2a" stroke-width="0.75" />
<line x1="277.25" y1="535.03" x2="277.25" y2="535.65" stroke="#2a2a2a" stroke-width="0.75" />
<line x1="275.45" y1="535.03" x2="279.05" y2="535.03" stroke="#2a2a2a" stroke-width="0.75" />
<line x1="275.45" y1="535.65" x2="279.05" y2="535.65" stroke="#2a2a2a" stroke-width="0.75" />
<line x1="253.40" y1="484.14" x2="253.40" y2="551.20" stroke="#3a3a3a" stroke-width="0.9" />
<line x1="253.40" y1="550.80" x2="285.50" y2="550.80" stroke="#3a3a3a" stroke-width="0.9" />
<line x1="251.40" y1="550.80" x2="253.40" y2="550.80" stroke="#3a3a3a" stroke-width="0.9" />
<text x="250.80" y="553.64" font-size="7.9" text-anchor="end" fill="#222" stroke="#222" >0</text>
<line x1="251.40" y1="528.71" x2="253.40" y2="528.71" stroke="#3a3a3a" stroke-width="0.9" />
<text x="250.80" y="531.56" font-size="7.9" text-anchor="end" fill="#222" stroke="#222" >50</text>
<line x1="251.40" y1="506.63" x2="253.40" y2="506.63" stroke="#3a3a3a" stroke-width="0.9" />
<text x="250.80" y="509.47" font-size="7.9" text-anchor="end" fill="#222" stroke="#222" >100</text>
<line x1="251.40" y1="484.54" x2="253.40" y2="484.54" stroke="#3a3a3a" stroke-width="0.9" />
<text x="250.80" y="487.39" font-size="7.9" text-anchor="end" fill="#222" stroke="#222" >150</text>
<line x1="263.00" y1="550.80" x2="263.00" y2="553.20" stroke="#3a3a3a" stroke-width="0.9" />
<text x="263.00" y="561.62" font-size="8.1" text-anchor="middle" fill="#222" stroke="#222" >12</text>
<line x1="277.25" y1="550.80" x2="277.25" y2="553.20" stroke="#3a3a3a" stroke-width="0.9" />
<text x="277.25" y="561.62" font-size="8.1" text-anchor="middle" fill="#222" stroke="#222" >24</text>
<text x="256.50" y="561.62" font-size="8.1" text-anchor="end" fill="#222" stroke="#222" >Time (h)</text>
<text x="274.50" y="473.72" font-size="8.1" text-anchor="middle" fill="#222" stroke="#222" >Putrescine</text>
<text x="0" y="0" font-size="8.1" text-anchor="middle" fill="#222" stroke="#222" transform="translate(236.12 506.50) rotate(-90)">Fraction contribution (%)</text>
<rect x="288.00" y="487.40" width="10.00" height="4.80" fill="#5976af" />
<text x="299.80" y="492.72" font-size="8.1" fill="#222" stroke="#222" >M+4</text>
<rect x="288.00" y="498.60" width="10.00" height="4.80" fill="#c1c1c1" />
<text x="299.80" y="503.92" font-size="8.1" fill="#222" stroke="#222" >M+0</text>
<rect x="355.75" y="504.25" width="7.00" height="16.61" fill="#5976af" />
<rect x="355.75" y="520.86" width="7.00" height="29.54" fill="#c1c1c1" />
<line x1="359.25" y1="503.10" x2="359.25" y2="505.40" stroke="#2a2a2a" stroke-width="0.75" />
<line x1="357.45" y1="503.10" x2="361.05" y2="503.10" stroke="#2a2a2a" stroke-width="0.75" />
<line x1="357.45" y1="505.40" x2="361.05" y2="505.40" stroke="#2a2a2a" stroke-width="0.75" />
<line x1="359.25" y1="519.25" x2="359.25" y2="522.48" stroke="#2a2a2a" stroke-width="0.75" />
<line x1="357.45" y1="519.25" x2="361.05" y2="519.25" stroke="#2a2a2a" stroke-width="0.75" />
<line x1="357.45" y1="522.48" x2="361.05" y2="522.48" stroke="#2a2a2a" stroke-width="0.75" />
<rect x="366.25" y="504.25" width="7.00" height="20.31" fill="#5976af" />
<rect x="366.25" y="524.56" width="7.00" height="25.84" fill="#c1c1c1" />
<line x1="369.75" y1="503.56" x2="369.75" y2="504.94" stroke="#2a2a2a" stroke-width="0.75" />
<line x1="367.95" y1="503.56" x2="371.55" y2="503.56" stroke="#2a2a2a" stroke-width="0.75" />
<line x1="367.95" y1="504.94" x2="371.55" y2="504.94" stroke="#2a2a2a" stroke-width="0.75" />
<line x1="369.75" y1="523.86" x2="369.75" y2="525.25" stroke="#2a2a2a" stroke-width="0.75" />
<line x1="367.95" y1="523.86" x2="371.55" y2="523.86" stroke="#2a2a2a" stroke-width="0.75" />
<line x1="367.95" y1="525.25" x2="371.55" y2="525.25" stroke="#2a2a2a" stroke-width="0.75" />
<rect x="377.00" y="504.25" width="7.00" height="27.23" fill="#5976af" />
<rect x="377.00" y="531.48" width="7.00" height="18.92" fill="#c1c1c1" />
<line x1="380.50" y1="503.10" x2="380.50" y2="505.40" stroke="#2a2a2a" stroke-width="0.75" />
<line x1="378.70" y1="503.10" x2="382.30" y2="503.10" stroke="#2a2a2a" stroke-width="0.75" />
<line x1="378.70" y1="505.40" x2="382.30" y2="505.40" stroke="#2a2a2a" stroke-width="0.75" />
<line x1="380.50" y1="530.09" x2="380.50" y2="532.86" stroke="#2a2a2a" stroke-width="0.75" />
<line x1="378.70" y1="530.09" x2="382.30" y2="530.09" stroke="#2a2a2a" stroke-width="0.75" />
<line x1="378.70" y1="532.86" x2="382.30" y2="532.86" stroke="#2a2a2a" stroke-width="0.75" />
<rect x="387.50" y="504.25" width="7.00" height="31.38" fill="#5976af" />
<rect x="387.50" y="535.63" width="7.00" height="14.77" fill="#c1c1c1" />
<line x1="391.00" y1="503.10" x2="391.00" y2="505.40" stroke="#2a2a2a" stroke-width="0.75" />
<line x1="389.20" y1="503.10" x2="392.80" y2="503.10" stroke="#2a2a2a" stroke-width="0.75" />
<line x1="389.20" y1="505.40" x2="392.80" y2="505.40" stroke="#2a2a2a" stroke-width="0.75" />
<line x1="391.00" y1="534.48" x2="391.00" y2="536.79" stroke="#2a2a2a" stroke-width="0.75" />
<line x1="389.20" y1="534.48" x2="392.80" y2="534.48" stroke="#2a2a2a" stroke-width="0.75" />
<line x1="389.20" y1="536.79" x2="392.80" y2="536.79" stroke="#2a2a2a" stroke-width="0.75" />
<line x1="352.20" y1="480.77" x2="352.20" y2="550.80" stroke="#3a3a3a" stroke-width="0.9" />
<line x1="352.20" y1="550.40" x2="397.50" y2="550.40" stroke="#3a3a3a" stroke-width="0.9" />
<line x1="350.20" y1="550.40" x2="352.20" y2="550.40" stroke="#3a3a3a" stroke-width="0.9" />
<text x="349.60" y="553.24" font-size="7.9" text-anchor="end" fill="#222" stroke="#222" >0</text>
<line x1="350.20" y1="527.32" x2="352.20" y2="527.32" stroke="#3a3a3a" stroke-width="0.9" />
<text x="349.60" y="530.17" font-size="7.9" text-anchor="end" fill="#222" stroke="#222" >50</text>
<line x1="350.20" y1="504.25" x2="352.20" y2="504.25" stroke="#3a3a3a" stroke-width="0.9" />
<text x="349.60" y="507.09" font-size="7.9" text-anchor="end" fill="#222" stroke="#222" >100</text>
<line x1="350.20" y1="481.17" x2="352.20" y2="481.17" stroke="#3a3a3a" stroke-width="0.9" />
<text x="349.60" y="484.02" font-size="7.9" text-anchor="end" fill="#222" stroke="#222" >150</text>
<line x1="359.25" y1="550.40" x2="359.25" y2="552.80" stroke="#3a3a3a" stroke-width="0.9" />
<text x="359.25" y="561.22" font-size="8.1" text-anchor="middle" fill="#222" stroke="#222" >0.5</text>
<line x1="369.75" y1="550.40" x2="369.75" y2="552.80" stroke="#3a3a3a" stroke-width="0.9" />
<text x="369.75" y="561.22" font-size="8.1" text-anchor="middle" fill="#222" stroke="#222" >1</text>
<line x1="380.50" y1="550.40" x2="380.50" y2="552.80" stroke="#3a3a3a" stroke-width="0.9" />
<text x="380.50" y="561.22" font-size="8.1" text-anchor="middle" fill="#222" stroke="#222" >3</text>
<line x1="391.00" y1="550.40" x2="391.00" y2="552.80" stroke="#3a3a3a" stroke-width="0.9" />
<text x="391.00" y="561.22" font-size="8.1" text-anchor="middle" fill="#222" stroke="#222" >6</text>
<text x="351.50" y="561.22" font-size="8.1" text-anchor="end" fill="#222" stroke="#222" >Time (h)</text>
<text x="379.30" y="474.42" font-size="8.1" text-anchor="middle" fill="#222" stroke="#222" >Ornithine</text>
<text x="0" y="0" font-size="8.1" text-anchor="middle" fill="#222" stroke="#222" transform="translate(335.32 506.50) rotate(-90)">Fraction contribution (%)</text>
<rect x="400.00" y="487.00" width="10.00" height="4.80" fill="#5976af" />
<text x="411.80" y="492.32" font-size="8.1" fill="#222" stroke="#222" >M+5</text>
<rect x="400.00" y="498.20" width="10.00" height="4.80" fill="#c1c1c1" />
<text x="411.80" y="503.52" font-size="8.1" fill="#222" stroke="#222" >M+0</text>
<rect x="461.25" y="507.28" width="9.50" height="19.80" fill="#5976af" />
<rect x="461.25" y="527.08" width="9.50" height="23.32" fill="#c1c1c1" />
<line x1="466.00" y1="506.97" x2="466.00" y2="507.59" stroke="#2a2a2a" stroke-width="0.75" />
<line x1="464.20" y1="506.97" x2="467.80" y2="506.97" stroke="#2a2a2a" stroke-width="0.75" />
<line x1="464.20" y1="507.59" x2="467.80" y2="507.59" stroke="#2a2a2a" stroke-width="0.75" />
<line x1="466.00" y1="526.77" x2="466.00" y2="527.39" stroke="#2a2a2a" stroke-width="0.75" />
<line x1="464.20" y1="526.77" x2="467.80" y2="526.77" stroke="#2a2a2a" stroke-width="0.75" />
<line x1="464.20" y1="527.39" x2="467.80" y2="527.39" stroke="#2a2a2a" stroke-width="0.75" />
<rect x="475.45" y="507.50" width="9.50" height="26.84" fill="#5976af" />
<rect x="475.45" y="534.34" width="9.50" height="16.06" fill="#c1c1c1" />
<line x1="480.20" y1="507.15" x2="480.20" y2="507.85" stroke="#2a2a2a" stroke-width="0.75" />
<line x1="478.40" y1="507.15" x2="482.00" y2="507.15" stroke="#2a2a2a" stroke-width="0.75" />
<line x1="478.40" y1="507.85" x2="482.00" y2="507.85" stroke="#2a2a2a" stroke-width="0.75" />
<line x1="480.20" y1="533.94" x2="480.20" y2="534.74" stroke="#2a2a2a" stroke-width="0.75" />
<line x1="478.40" y1="533.94" x2="482.00" y2="533.94" stroke="#2a2a2a" stroke-width="0.75" />
<line x1="478.40" y1="534.74" x2="482.00" y2="534.74" stroke="#2a2a2a" stroke-width="0.75" />
<line x1="456.20" y1="484.00" x2="456.20" y2="550.80" stroke="#3a3a3a" stroke-width="0.9" />
<line x1="456.20" y1="550.40" x2="489.30" y2="550.40" stroke="#3a3a3a" stroke-width="0.9" />
<line x1="454.20" y1="550.40" x2="456.20" y2="550.40" stroke="#3a3a3a" stroke-width="0.9" />
<text x="453.60" y="553.24" font-size="7.9" text-anchor="end" fill="#222" stroke="#222" >0</text>
<line x1="454.20" y1="528.40" x2="456.20" y2="528.40" stroke="#3a3a3a" stroke-width="0.9" />
<text x="453.60" y="531.24" font-size="7.9" text-anchor="end" fill="#222" stroke="#222" >50</text>
<line x1="454.20" y1="506.40" x2="456.20" y2="506.40" stroke="#3a3a3a" stroke-width="0.9" />
<text x="453.60" y="509.24" font-size="7.9" text-anchor="end" fill="#222" stroke="#222" >100</text>
<line x1="454.20" y1="484.40" x2="456.20" y2="484.40" stroke="#3a3a3a" stroke-width="0.9" />
<text x="453.60" y="487.24" font-size="7.9" text-anchor="end" fill="#222" stroke="#222" >150</text>
<line x1="466.00" y1="550.40" x2="466.00" y2="552.80" stroke="#3a3a3a" stroke-width="0.9" />
<text x="466.00" y="561.22" font-size="8.1" text-anchor="middle" fill="#222" stroke="#222" >3</text>
<line x1="480.20" y1="550.40" x2="480.20" y2="552.80" stroke="#3a3a3a" stroke-width="0.9" />
<text x="480.20" y="561.22" font-size="8.1" text-anchor="middle" fill="#222" stroke="#222" >6</text>
<text x="461.90" y="561.22" font-size="8.1" text-anchor="end" fill="#222" stroke="#222" >Time (h)</text>
<text x="475.20" y="475.92" font-size="8.1" text-anchor="middle" fill="#222" stroke="#222" >Putrescine</text>
<text x="0" y="0" font-size="8.1" text-anchor="middle" fill="#222" stroke="#222" transform="translate(438.72 506.50) rotate(-90)">Fraction contribution (%)</text>
<rect x="492.00" y="489.00" width="10.00" height="4.80" fill="#5976af" />
<text x="503.80" y="494.32" font-size="8.1" fill="#222" stroke="#222" >M+4</text>
<rect x="492.00" y="500.20" width="10.00" height="4.80" fill="#c1c1c1" />
<text x="503.80" y="505.52" font-size="8.1" fill="#222" stroke="#222" >M+0</text>
<text x="2.10" y="586.40" font-size="15" font-weight="bold" fill="#000" stroke="#000" >I</text>
<rect x="41.00" y="615.50" width="9.50" height="64.00" fill="#8b98c4" />
<line x1="45.75" y1="615.50" x2="45.75" y2="614.73" stroke="#333" stroke-width="0.7" />
<line x1="43.35" y1="614.73" x2="48.15" y2="614.73" stroke="#333" stroke-width="0.7" />
<rect x="55.50" y="657.00" width="9.50" height="22.50" fill="#e0913c" />
<line x1="60.25" y1="657.00" x2="60.25" y2="656.23" stroke="#333" stroke-width="0.7" />
<line x1="57.85" y1="656.23" x2="62.65" y2="656.23" stroke="#333" stroke-width="0.7" />
<line x1="52.75" y1="679.50" x2="52.75" y2="682.80" stroke="#3a3a3a" stroke-width="0.9" />
<text x="57.25" y="688.80" font-size="8.1" text-anchor="end" transform="rotate(-45 57.25 688.80)" fill="#222" stroke="#222" >A549</text>
<rect x="79.60" y="615.75" width="9.50" height="63.75" fill="#8b98c4" />
<line x1="84.35" y1="615.75" x2="84.35" y2="615.11" stroke="#333" stroke-width="0.7" />
<line x1="81.95" y1="615.11" x2="86.75" y2="615.11" stroke="#333" stroke-width="0.7" />
<rect x="94.10" y="653.75" width="9.50" height="25.75" fill="#e0913c" />
<line x1="98.85" y1="653.75" x2="98.85" y2="653.43" stroke="#333" stroke-width="0.7" />
<line x1="96.45" y1="653.43" x2="101.25" y2="653.43" stroke="#333" stroke-width="0.7" />
<line x1="91.35" y1="679.50" x2="91.35" y2="682.80" stroke="#3a3a3a" stroke-width="0.9" />
<text x="95.85" y="688.80" font-size="8.1" text-anchor="end" transform="rotate(-45 95.85 688.80)" fill="#222" stroke="#222" >SW1573</text>
<rect x="118.20" y="615.50" width="9.50" height="64.00" fill="#8b98c4" />
<line x1="122.95" y1="615.50" x2="122.95" y2="612.31" stroke="#333" stroke-width="0.7" />
<line x1="120.55" y1="612.31" x2="125.35" y2="612.31" stroke="#333" stroke-width="0.7" />
<rect x="132.70" y="660.76" width="9.50" height="18.74" fill="#e0913c" />
<line x1="137.45" y1="660.76" x2="137.45" y2="660.12" stroke="#333" stroke-width="0.7" />
<line x1="135.05" y1="660.12" x2="139.85" y2="660.12" stroke="#333" stroke-width="0.7" />
<line x1="129.95" y1="679.50" x2="129.95" y2="682.80" stroke="#3a3a3a" stroke-width="0.9" />
<text x="134.45" y="688.80" font-size="8.1" text-anchor="end" transform="rotate(-45 134.45 688.80)" fill="#222" stroke="#222" >H1792</text>
<rect x="156.80" y="615.50" width="9.50" height="64.00" fill="#8b98c4" />
<line x1="161.55" y1="615.50" x2="161.55" y2="613.58" stroke="#333" stroke-width="0.7" />
<line x1="159.15" y1="613.58" x2="163.95" y2="613.58" stroke="#333" stroke-width="0.7" />
<rect x="171.30" y="652.73" width="9.50" height="26.77" fill="#e0913c" />
<line x1="176.05" y1="652.73" x2="176.05" y2="652.41" stroke="#333" stroke-width="0.7" />
<line x1="173.65" y1="652.41" x2="178.45" y2="652.41" stroke="#333" stroke-width="0.7" />
<line x1="168.55" y1="679.50" x2="168.55" y2="682.80" stroke="#3a3a3a" stroke-width="0.9" />
<text x="173.05" y="688.80" font-size="8.1" text-anchor="end" transform="rotate(-45 173.05 688.80)" fill="#222" stroke="#222" >H1373</text>
<line x1="37.00" y1="602.60" x2="37.00" y2="679.90" stroke="#3a3a3a" stroke-width="0.9" />
<line x1="37.00" y1="679.50" x2="185.50" y2="679.50" stroke="#3a3a3a" stroke-width="0.9" />
<line x1="32.30" y1="679.50" x2="37.00" y2="679.50" stroke="#3a3a3a" stroke-width="0.9" />
<text x="30.60" y="682.34" font-size="7.9" text-anchor="end" fill="#222" stroke="#222" >0</text>
<line x1="32.30" y1="660.38" x2="37.00" y2="660.38" stroke="#3a3a3a" stroke-width="0.9" />
<text x="30.60" y="663.22" font-size="7.9" text-anchor="end" fill="#222" stroke="#222" >30</text>
<line x1="32.30" y1="641.25" x2="37.00" y2="641.25" stroke="#3a3a3a" stroke-width="0.9" />
<text x="30.60" y="644.09" font-size="7.9" text-anchor="end" fill="#222" stroke="#222" >60</text>
<line x1="32.30" y1="622.12" x2="37.00" y2="622.12" stroke="#3a3a3a" stroke-width="0.9" />
<text x="30.60" y="624.97" font-size="7.9" text-anchor="end" fill="#222" stroke="#222" >90</text>
<line x1="32.30" y1="603.00" x2="37.00" y2="603.00" stroke="#3a3a3a" stroke-width="0.9" />
<text x="30.60" y="605.84" font-size="7.9" text-anchor="end" fill="#222" stroke="#222" >120</text>
<text x="0" y="0" font-size="8.1" text-anchor="middle" fill="#222" stroke="#222" transform="translate(13.92 640.50) rotate(-90)">Cell viability (%)</text>
<line x1="47.00" y1="612.00" x2="64.50" y2="612.00" stroke="#333" stroke-width="0.85" />
<text x="55.75" y="612.32" font-size="8.1" text-anchor="middle" fill="#222" stroke="#222" >***</text>
<line x1="83.00" y1="612.20" x2="100.40" y2="612.20" stroke="#333" stroke-width="0.85" />
<text x="91.70" y="612.52" font-size="8.1" text-anchor="middle" fill="#222" stroke="#222" >***</text>
<line x1="123.75" y1="609.50" x2="141.25" y2="609.50" stroke="#333" stroke-width="0.85" />
<text x="132.50" y="609.82" font-size="8.1" text-anchor="middle" fill="#222" stroke="#222" >***</text>
<line x1="160.00" y1="610.75" x2="177.00" y2="610.75" stroke="#333" stroke-width="0.85" />
<text x="168.50" y="611.07" font-size="8.1" text-anchor="middle" fill="#222" stroke="#222" >***</text>
<rect x="192.50" y="602.50" width="10.50" height="6.20" fill="#8b98c4" />
<text x="207.00" y="608.52" font-size="8.1" fill="#222" stroke="#222" >Vehicle</text>
<rect x="192.50" y="615.00" width="10.50" height="6.20" fill="#e0913c" />
<text x="207.00" y="621.02" font-size="8.1" fill="#222" stroke="#222" >ODCi</text>
<text x="263.20" y="586.50" font-size="15" font-weight="bold" fill="#000" stroke="#000" >J</text>
<text x="325.50" y="585.26" font-size="8.5" text-anchor="middle" fill="#222" stroke="#222" style="stroke-width:0.38px">SW1573</text>
<line x1="301.25" y1="588.90" x2="349.50" y2="588.90" stroke="#8c8c8c" stroke-width="1.3" />
<text x="299.50" y="599.86" font-size="8.5" text-anchor="end" fill="#222" stroke="#222" >Arg</text>
<line x1="302.80" y1="596.80" x2="306.20" y2="596.80" stroke="#5c5c5c" stroke-width="0.95" />
<line x1="304.50" y1="595.10" x2="304.50" y2="598.50" stroke="#5c5c5c" stroke-width="0.95" />
<line x1="316.30" y1="596.80" x2="319.70" y2="596.80" stroke="#5c5c5c" stroke-width="0.95" />
<line x1="330.30" y1="596.80" x2="333.70" y2="596.80" stroke="#5c5c5c" stroke-width="0.95" />
<line x1="344.05" y1="596.80" x2="347.45" y2="596.80" stroke="#5c5c5c" stroke-width="0.95" />
<text x="299.50" y="610.26" font-size="8.5" text-anchor="end" fill="#222" stroke="#222" >Cit</text>
<line x1="302.80" y1="607.20" x2="306.20" y2="607.20" stroke="#5c5c5c" stroke-width="0.95" />
<line x1="316.30" y1="607.20" x2="319.70" y2="607.20" stroke="#5c5c5c" stroke-width="0.95" />
<line x1="330.30" y1="607.20" x2="333.70" y2="607.20" stroke="#5c5c5c" stroke-width="0.95" />
<line x1="332.00" y1="605.50" x2="332.00" y2="608.90" stroke="#5c5c5c" stroke-width="0.95" />
<line x1="344.05" y1="607.20" x2="347.45" y2="607.20" stroke="#5c5c5c" stroke-width="0.95" />
<text x="299.50" y="620.46" font-size="8.5" text-anchor="end" fill="#222" stroke="#222" >AS</text>
<line x1="302.80" y1="617.40" x2="306.20" y2="617.40" stroke="#5c5c5c" stroke-width="0.95" />
<line x1="316.30" y1="617.40" x2="319.70" y2="617.40" stroke="#5c5c5c" stroke-width="0.95" />
<line x1="330.30" y1="617.40" x2="333.70" y2="617.40" stroke="#5c5c5c" stroke-width="0.95" />
<line x1="344.05" y1="617.40" x2="347.45" y2="617.40" stroke="#5c5c5c" stroke-width="0.95" />
<line x1="345.75" y1="615.70" x2="345.75" y2="619.10" stroke="#5c5c5c" stroke-width="0.95" />
<rect x="294.60" y="622.50" width="56.40" height="15.00" fill="#e4e4e4" stroke="#4a4a4a" stroke-width="0.6"/>
<rect x="296.80" y="628.60" width="12.40" height="2.20" rx="1.10" fill="rgb(29,29,29)" filter="url(#bl)"/>
<rect x="310.90" y="628.70" width="11.00" height="2.00" rx="1.00" fill="rgb(77,77,77)" filter="url(#bl)"/>
<rect x="324.20" y="628.80" width="11.60" height="1.80" rx="0.90" fill="rgb(105,105,105)" filter="url(#bl)"/>
<rect x="337.70" y="628.60" width="12.60" height="2.20" rx="1.10" fill="rgb(39,39,39)" filter="url(#bl)"/>
<text x="292.00" y="633.66" font-size="8.5" text-anchor="end" fill="#222" stroke="#222" >p-S6K</text>
<line x1="351.30" y1="630.00" x2="353.80" y2="630.00" stroke="#444" stroke-width="0.6" />
<text x="354.50" y="632.30" font-size="6.4" fill="#222" stroke="#222" >70 kDa</text>
<rect x="294.60" y="640.50" width="56.40" height="14.00" fill="#e4e4e4" stroke="#4a4a4a" stroke-width="0.6"/>
<rect x="297.80" y="646.18" width="51.50" height="2.04" rx="1" fill="rgb(124,124,124)" filter="url(#bl)"/>
<rect x="296.80" y="645.30" width="12.40" height="3.80" rx="1.60" fill="rgb(20,20,20)" filter="url(#bl)"/>
<rect x="310.90" y="645.50" width="11.00" height="3.40" rx="1.60" fill="rgb(29,29,29)" filter="url(#bl)"/>
<rect x="324.20" y="645.00" width="11.60" height="4.40" rx="1.60" fill="rgb(20,20,20)" filter="url(#bl)"/>
<rect x="337.70" y="645.30" width="12.60" height="3.80" rx="1.60" fill="rgb(20,20,20)" filter="url(#bl)"/>
<text x="292.00" y="651.06" font-size="8.5" text-anchor="end" fill="#222" stroke="#222" >S6K</text>
<line x1="351.30" y1="647.50" x2="353.80" y2="647.50" stroke="#444" stroke-width="0.6" />
<text x="354.50" y="649.80" font-size="6.4" fill="#222" stroke="#222" >70 kDa</text>
<rect x="294.60" y="657.50" width="56.40" height="14.50" fill="#e4e4e4" stroke="#4a4a4a" stroke-width="0.6"/>
<rect x="297.80" y="663.55" width="51.50" height="1.80" rx="1" fill="rgb(153,153,153)" filter="url(#bl)"/>
<rect x="296.80" y="662.65" width="12.40" height="3.60" rx="1.60" fill="rgb(20,20,20)" filter="url(#bl)"/>
<rect x="310.90" y="662.95" width="11.00" height="3.00" rx="1.50" fill="rgb(29,29,29)" filter="url(#bl)"/>
<rect x="324.20" y="662.95" width="11.60" height="3.00" rx="1.50" fill="rgb(29,29,29)" filter="url(#bl)"/>
<rect x="337.70" y="662.45" width="12.60" height="4.00" rx="1.60" fill="rgb(20,20,20)" filter="url(#bl)"/>
<text x="292.00" y="668.06" font-size="8.5" text-anchor="end" fill="#222" stroke="#222" >p-S6</text>
<line x1="351.30" y1="661.85" x2="353.80" y2="661.85" stroke="#444" stroke-width="0.6" />
<text x="354.50" y="664.15" font-size="6.4" fill="#222" stroke="#222" >35 kDa</text>
<rect x="294.60" y="675.00" width="56.40" height="14.50" fill="#e4e4e4" stroke="#4a4a4a" stroke-width="0.6"/>
<rect x="297.80" y="680.63" width="51.50" height="2.64" rx="1" fill="rgb(48,48,48)" filter="url(#bl)"/>
<rect x="296.80" y="679.55" width="12.40" height="4.80" rx="1.60" fill="rgb(20,20,20)" filter="url(#bl)"/>
<rect x="310.90" y="679.75" width="11.00" height="4.40" rx="1.60" fill="rgb(20,20,20)" filter="url(#bl)"/>
<rect x="324.20" y="679.15" width="11.60" height="5.60" rx="1.60" fill="rgb(20,20,20)" filter="url(#bl)"/>
<rect x="337.70" y="679.55" width="12.60" height="4.80" rx="1.60" fill="rgb(20,20,20)" filter="url(#bl)"/>
<text x="292.00" y="684.96" font-size="8.5" text-anchor="end" fill="#222" stroke="#222" >S6</text>
<line x1="351.30" y1="679.35" x2="353.80" y2="679.35" stroke="#444" stroke-width="0.6" />
<text x="354.50" y="681.65" font-size="6.4" fill="#222" stroke="#222" >35 kDa</text>
<rect x="294.60" y="692.50" width="56.40" height="14.50" fill="#e4e4e4" stroke="#4a4a4a" stroke-width="0.6"/>
<rect x="297.80" y="698.67" width="51.50" height="1.56" rx="1" fill="rgb(134,134,134)" filter="url(#bl)"/>
<rect x="296.80" y="698.05" width="12.40" height="2.80" rx="1.40" fill="rgb(20,20,20)" filter="url(#bl)"/>
<rect x="310.90" y="698.15" width="11.00" height="2.60" rx="1.30" fill="rgb(29,29,29)" filter="url(#bl)"/>
<rect x="324.20" y="698.05" width="11.60" height="2.80" rx="1.40" fill="rgb(29,29,29)" filter="url(#bl)"/>
<rect x="337.70" y="698.05" width="12.60" height="2.80" rx="1.40" fill="rgb(20,20,20)" filter="url(#bl)"/>
<text x="292.00" y="702.36" font-size="8.5" text-anchor="end" fill="#222" stroke="#222" >β-Actin</text>
<line x1="351.30" y1="704.83" x2="353.80" y2="704.83" stroke="#444" stroke-width="0.6" />
<text x="354.50" y="707.13" font-size="6.4" fill="#222" stroke="#222" >40 kDa</text>
<text x="448.25" y="585.26" font-size="8.5" text-anchor="middle" fill="#222" stroke="#222" style="stroke-width:0.38px">H1792</text>
<line x1="423.75" y1="588.90" x2="472.50" y2="588.90" stroke="#8c8c8c" stroke-width="1.3" />
<text x="415.50" y="599.36" font-size="8.5" text-anchor="end" fill="#222" stroke="#222" >Arg</text>
<line x1="425.30" y1="596.30" x2="428.70" y2="596.30" stroke="#5c5c5c" stroke-width="0.95" />
<line x1="427.00" y1="594.60" x2="427.00" y2="598.00" stroke="#5c5c5c" stroke-width="0.95" />
<line x1="439.55" y1="596.30" x2="442.95" y2="596.30" stroke="#5c5c5c" stroke-width="0.95" />
<line x1="453.30" y1="596.30" x2="456.70" y2="596.30" stroke="#5c5c5c" stroke-width="0.95" />
<line x1="467.05" y1="596.30" x2="470.45" y2="596.30" stroke="#5c5c5c" stroke-width="0.95" />
<text x="415.50" y="609.86" font-size="8.5" text-anchor="end" fill="#222" stroke="#222" >Cit</text>
<line x1="425.30" y1="606.80" x2="428.70" y2="606.80" stroke="#5c5c5c" stroke-width="0.95" />
<line x1="439.55" y1="606.80" x2="442.95" y2="606.80" stroke="#5c5c5c" stroke-width="0.95" />
<line x1="453.30" y1="606.80" x2="456.70" y2="606.80" stroke="#5c5c5c" stroke-width="0.95" />
<line x1="455.00" y1="605.10" x2="455.00" y2="608.50" stroke="#5c5c5c" stroke-width="0.95" />
<line x1="467.05" y1="606.80" x2="470.45" y2="606.80" stroke="#5c5c5c" stroke-width="0.95" />
<text x="415.50" y="620.06" font-size="8.5" text-anchor="end" fill="#222" stroke="#222" >AS</text>
<line x1="425.30" y1="617.00" x2="428.70" y2="617.00" stroke="#5c5c5c" stroke-width="0.95" />
<line x1="439.55" y1="617.00" x2="442.95" y2="617.00" stroke="#5c5c5c" stroke-width="0.95" />
<line x1="453.30" y1="617.00" x2="456.70" y2="617.00" stroke="#5c5c5c" stroke-width="0.95" />
<line x1="467.05" y1="617.00" x2="470.45" y2="617.00" stroke="#5c5c5c" stroke-width="0.95" />
<line x1="468.75" y1="615.30" x2="468.75" y2="618.70" stroke="#5c5c5c" stroke-width="0.95" />
<rect x="418.25" y="623.00" width="56.25" height="15.00" fill="#e4e4e4" stroke="#4a4a4a" stroke-width="0.6"/>
<rect x="420.20" y="629.10" width="12.60" height="2.20" rx="1.10" fill="rgb(48,48,48)" filter="url(#bl)"/>
<rect x="434.80" y="629.20" width="11.40" height="2.00" rx="1.00" fill="rgb(124,124,124)" filter="url(#bl)"/>
<rect x="448.30" y="629.30" width="11.40" height="1.80" rx="0.90" fill="rgb(134,134,134)" filter="url(#bl)"/>
<rect x="461.20" y="629.00" width="12.60" height="2.40" rx="1.20" fill="rgb(39,39,39)" filter="url(#bl)"/>
<text x="415.50" y="632.36" font-size="8.5" text-anchor="end" fill="#222" stroke="#222" >p-S6K</text>
<line x1="474.80" y1="630.50" x2="477.30" y2="630.50" stroke="#444" stroke-width="0.6" />
<text x="478.80" y="632.80" font-size="6.4" fill="#222" stroke="#222" >70 kDa</text>
<rect x="418.25" y="640.50" width="56.25" height="14.50" fill="#e4e4e4" stroke="#4a4a4a" stroke-width="0.6"/>
<rect x="421.20" y="646.55" width="51.60" height="1.80" rx="1" fill="rgb(124,124,124)" filter="url(#bl)"/>
<rect x="420.20" y="645.85" width="12.60" height="3.20" rx="1.60" fill="rgb(20,20,20)" filter="url(#bl)"/>
<rect x="434.80" y="645.95" width="11.40" height="3.00" rx="1.50" fill="rgb(29,29,29)" filter="url(#bl)"/>
<rect x="448.30" y="645.95" width="11.40" height="3.00" rx="1.50" fill="rgb(29,29,29)" filter="url(#bl)"/>
<rect x="461.20" y="645.65" width="12.60" height="3.60" rx="1.60" fill="rgb(20,20,20)" filter="url(#bl)"/>
<text x="415.50" y="649.86" font-size="8.5" text-anchor="end" fill="#222" stroke="#222" >S6K</text>
<line x1="474.80" y1="647.75" x2="477.30" y2="647.75" stroke="#444" stroke-width="0.6" />
<text x="478.80" y="650.05" font-size="6.4" fill="#222" stroke="#222" >70 kDa</text>
<rect x="418.25" y="658.00" width="56.25" height="15.00" fill="#e4e4e4" stroke="#4a4a4a" stroke-width="0.6"/>
<rect x="421.20" y="664.60" width="51.60" height="1.20" rx="1" fill="rgb(153,153,153)" filter="url(#bl)"/>
<rect x="420.20" y="662.80" width="12.60" height="4.80" rx="1.60" fill="rgb(20,20,20)" filter="url(#bl)"/>
<rect x="434.80" y="664.10" width="11.40" height="2.20" rx="1.10" fill="rgb(134,134,134)" filter="url(#bl)"/>
<rect x="448.30" y="664.20" width="11.40" height="2.00" rx="1.00" fill="rgb(143,143,143)" filter="url(#bl)"/>
<rect x="461.20" y="662.80" width="12.60" height="4.80" rx="1.60" fill="rgb(20,20,20)" filter="url(#bl)"/>
<text x="415.50" y="667.46" font-size="8.5" text-anchor="end" fill="#222" stroke="#222" >p-S6</text>
<line x1="474.80" y1="662.50" x2="477.30" y2="662.50" stroke="#444" stroke-width="0.6" />
<text x="478.80" y="664.80" font-size="6.4" fill="#222" stroke="#222" >35 kDa</text>
<rect x="418.25" y="675.75" width="56.25" height="14.25" fill="#e4e4e4" stroke="#4a4a4a" stroke-width="0.6"/>
<rect x="421.20" y="681.38" width="51.60" height="2.40" rx="1" fill="rgb(48,48,48)" filter="url(#bl)"/>
<rect x="420.20" y="680.48" width="12.60" height="4.20" rx="1.60" fill="rgb(20,20,20)" filter="url(#bl)"/>
<rect x="434.80" y="680.58" width="11.40" height="4.00" rx="1.60" fill="rgb(20,20,20)" filter="url(#bl)"/>
<rect x="448.30" y="680.58" width="11.40" height="4.00" rx="1.60" fill="rgb(20,20,20)" filter="url(#bl)"/>
<rect x="461.20" y="680.58" width="12.60" height="4.00" rx="1.60" fill="rgb(20,20,20)" filter="url(#bl)"/>
<text x="415.50" y="686.06" font-size="8.5" text-anchor="end" fill="#222" stroke="#222" >S6</text>
<line x1="474.80" y1="680.02" x2="477.30" y2="680.02" stroke="#444" stroke-width="0.6" />
<text x="478.80" y="682.33" font-size="6.4" fill="#222" stroke="#222" >35 kDa</text>
<rect x="418.25" y="693.00" width="56.25" height="14.50" fill="#e4e4e4" stroke="#4a4a4a" stroke-width="0.6"/>
<rect x="421.20" y="699.23" width="51.60" height="1.44" rx="1" fill="rgb(134,134,134)" filter="url(#bl)"/>
<rect x="420.20" y="698.75" width="12.60" height="2.40" rx="1.20" fill="rgb(29,29,29)" filter="url(#bl)"/>
<rect x="434.80" y="698.75" width="11.40" height="2.40" rx="1.20" fill="rgb(29,29,29)" filter="url(#bl)"/>
<rect x="448.30" y="698.75" width="11.40" height="2.40" rx="1.20" fill="rgb(29,29,29)" filter="url(#bl)"/>
<rect x="461.20" y="698.65" width="12.60" height="2.60" rx="1.30" fill="rgb(29,29,29)" filter="url(#bl)"/>
<text x="415.50" y="703.06" font-size="8.5" text-anchor="end" fill="#222" stroke="#222" >β-Actin</text>
<line x1="474.80" y1="705.33" x2="477.30" y2="705.33" stroke="#444" stroke-width="0.6" />
<text x="478.80" y="707.63" font-size="6.4" fill="#222" stroke="#222" >40 kDa</text>
</svg>
</body></html>
